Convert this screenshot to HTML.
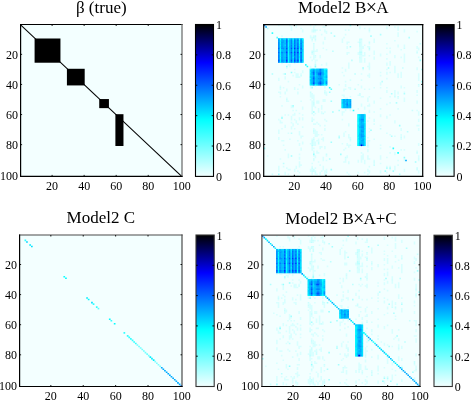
<!DOCTYPE html>
<html><head><meta charset="utf-8"><title>Model2 comparison</title>
<style>html,body{margin:0;padding:0;background:#fff;overflow:hidden}svg{display:block}</style></head>
<body>
<svg width="471" height="400" viewBox="0 0 471 400" style="display:block">
<rect width="471" height="400" fill="#fff"/>
<defs><linearGradient id="cb" x1="0" y1="1" x2="0" y2="0">
<stop offset="0.000" stop-color="#f3ffff"/>
<stop offset="0.375" stop-color="#00ffff"/>
<stop offset="0.750" stop-color="#0000ff"/>
<stop offset="1.000" stop-color="#000000"/>
</linearGradient></defs>
<g>
<rect x="20.60" y="24.50" width="161.40" height="151.90" fill="#f3ffff"/>
<line x1="20.60" y1="24.80" x2="181.70" y2="176.40" stroke="#000" stroke-width="1.05"/>
<rect x="34.59" y="38.50" width="25.86" height="24.22" fill="#000"/>
<rect x="66.91" y="68.78" width="17.78" height="16.65" fill="#000"/>
<rect x="99.23" y="99.06" width="9.70" height="9.08" fill="#000"/>
<rect x="115.39" y="114.20" width="8.08" height="31.79" fill="#000"/>
<path d="M20.00 24.50H182.60" stroke="#000" stroke-width="1.20"/>
<path d="M182.00 23.90V177.00" stroke="#666" stroke-width="1.20"/>
<path d="M20.60 23.90V177.00" stroke="#000" stroke-width="1.20"/>
<path d="M20.00 176.40H182.60" stroke="#000" stroke-width="1.20"/>
<path d="M52.10 176.40v-1.5M52.10 24.50v1.5M20.60 54.35h1.5M182.00 54.35h-1.5M84.14 176.40v-1.5M84.14 24.50v1.5M20.60 84.45h1.5M182.00 84.45h-1.5M116.18 176.40v-1.5M116.18 24.50v1.5M20.60 114.55h1.5M182.00 114.55h-1.5M148.22 176.40v-1.5M148.22 24.50v1.5M20.60 144.65h1.5M182.00 144.65h-1.5" stroke="#000" stroke-width="0.9" fill="none"/>
<g font-family="'Liberation Serif',serif" font-size="12" fill="#000">
<text x="52.10" y="189.90" text-anchor="middle">20</text>
<text x="17.90" y="58.65" text-anchor="end">20</text>
<text x="84.14" y="189.90" text-anchor="middle">40</text>
<text x="17.90" y="88.75" text-anchor="end">40</text>
<text x="116.18" y="189.90" text-anchor="middle">60</text>
<text x="17.90" y="118.85" text-anchor="end">60</text>
<text x="148.22" y="189.90" text-anchor="middle">80</text>
<text x="17.90" y="148.95" text-anchor="end">80</text>
<text x="181.80" y="189.90" text-anchor="middle">100</text>
<text x="17.90" y="179.90" text-anchor="end">100</text>
</g>
<text x="101.30" y="12.80" text-anchor="middle" font-family="'Liberation Serif',serif" font-size="17" fill="#000">β (true)</text>
<rect x="195.50" y="24.50" width="18.00" height="151.90" fill="url(#cb)" stroke="#000" stroke-width="1.1"/>
<path d="M195.50 146.02h1.8M213.50 146.02h-1.8M195.50 115.64h1.8M213.50 115.64h-1.8M195.50 85.26h1.8M213.50 85.26h-1.8M195.50 54.88h1.8M213.50 54.88h-1.8" stroke="#000" stroke-width="0.9" fill="none"/>
<g font-family="'Liberation Serif',serif" font-size="12" fill="#000">
<text x="215.90" y="180.90">0</text>
<text x="215.90" y="150.52">0.2</text>
<text x="215.90" y="120.14">0.4</text>
<text x="215.90" y="89.76">0.6</text>
<text x="215.90" y="59.38">0.8</text>
<text x="215.90" y="29.00">1</text>
</g>
</g>
<g>
<rect x="263.70" y="24.60" width="159.00" height="151.70" fill="#f3ffff"/>
<rect x="278.01" y="38.35" width="25.44" height="24.27" fill="#00d3ff"/>
<rect x="309.81" y="68.69" width="17.49" height="16.69" fill="#00d3ff"/>
<rect x="341.61" y="99.03" width="9.54" height="9.10" fill="#00d3ff"/>
<rect x="357.51" y="114.20" width="7.95" height="31.86" fill="#00d3ff"/>
<path fill="#d9ffff" d="M278.0 24.7h1.6v1.6h-1.6zM289.1 24.7h1.6v1.6h-1.6zM295.5 24.7h1.6v1.6h-1.6zM309.8 24.7h1.6v1.6h-1.6zM314.6 24.7h1.6v1.6h-1.6zM290.7 26.2h1.6v1.6h-1.6zM295.5 26.2h1.6v1.6h-1.6zM313.0 26.2h1.6v1.6h-1.6zM322.5 26.2h3.2v1.6h-3.2zM359.1 26.2h1.6v1.6h-1.6zM386.1 26.2h1.6v1.6h-1.6zM394.1 26.2h1.6v1.6h-1.6zM397.3 26.2h1.6v1.6h-1.6zM290.7 27.7h1.6v1.6h-1.6zM300.3 27.7h1.6v1.6h-1.6zM313.0 27.7h1.6v1.6h-1.6zM359.1 27.7h1.6v1.6h-1.6zM363.9 27.7h1.6v1.6h-1.6zM368.6 27.7h1.6v1.6h-1.6zM386.1 27.7h1.6v1.6h-1.6zM397.3 27.7h1.6v1.6h-1.6zM290.7 29.3h1.6v1.6h-1.6zM301.9 29.3h1.6v1.6h-1.6zM311.4 29.3h1.6v1.6h-1.6zM316.2 29.3h1.6v1.6h-1.6zM319.4 29.3h1.6v1.6h-1.6zM324.1 29.3h1.6v1.6h-1.6zM344.8 29.3h1.6v1.6h-1.6zM348.0 29.3h1.6v1.6h-1.6zM397.3 29.3h1.6v1.6h-1.6zM403.6 29.3h1.6v1.6h-1.6zM301.9 30.8h1.6v1.6h-1.6zM311.4 30.8h1.6v1.6h-1.6zM314.6 30.8h1.6v1.6h-1.6zM324.1 30.8h3.2v1.6h-3.2zM368.6 30.8h1.6v1.6h-1.6zM403.6 30.8h1.6v1.6h-1.6zM416.3 30.8h1.6v1.6h-1.6zM325.7 32.3h1.6v1.6h-1.6zM397.3 32.3h1.6v1.6h-1.6zM320.9 33.8h1.6v1.6h-1.6zM344.8 33.8h1.6v1.6h-1.6zM397.3 33.8h1.6v1.6h-1.6zM281.2 35.3h1.6v1.6h-1.6zM309.8 35.3h1.6v1.6h-1.6zM313.0 35.3h1.6v1.6h-1.6zM397.3 35.3h1.6v1.6h-1.6zM309.8 36.8h3.2v1.6h-3.2zM314.6 36.8h1.6v1.6h-1.6zM324.1 36.8h1.6v1.6h-1.6zM343.2 36.8h1.6v1.6h-1.6zM324.1 38.4h1.6v1.6h-1.6zM341.6 38.4h1.6v1.6h-1.6zM373.4 38.4h1.6v1.6h-1.6zM311.4 39.9h1.6v1.6h-1.6zM314.6 39.9h1.6v1.6h-1.6zM341.6 39.9h1.6v1.6h-1.6zM360.7 39.9h1.6v1.6h-1.6zM373.4 39.9h1.6v1.6h-1.6zM394.1 39.9h1.6v1.6h-1.6zM322.5 41.4h1.6v1.6h-1.6zM341.6 41.4h1.6v1.6h-1.6zM346.4 41.4h3.2v1.6h-3.2zM357.5 41.4h1.6v1.6h-1.6zM360.7 41.4h1.6v1.6h-1.6zM373.4 41.4h1.6v1.6h-1.6zM322.5 42.9h1.6v1.6h-1.6zM346.4 42.9h1.6v1.6h-1.6zM360.7 42.9h1.6v1.6h-1.6zM368.6 42.9h1.6v1.6h-1.6zM386.1 42.9h1.6v1.6h-1.6zM313.0 44.4h1.6v1.6h-1.6zM360.7 44.4h1.6v1.6h-1.6zM363.9 44.4h1.6v1.6h-1.6zM397.3 44.4h1.6v1.6h-1.6zM403.6 44.4h1.6v1.6h-1.6zM313.0 45.9h1.6v1.6h-1.6zM346.4 45.9h1.6v1.6h-1.6zM360.7 45.9h3.2v1.6h-3.2zM367.1 45.9h3.2v1.6h-3.2zM397.3 45.9h1.6v1.6h-1.6zM403.6 45.9h1.6v1.6h-1.6zM416.3 45.9h1.6v1.6h-1.6zM313.0 47.5h1.6v1.6h-1.6zM322.5 47.5h1.6v1.6h-1.6zM346.4 47.5h1.6v1.6h-1.6zM359.1 47.5h4.8v1.6h-4.8zM386.1 47.5h1.6v1.6h-1.6zM389.3 47.5h1.6v1.6h-1.6zM416.3 47.5h3.2v1.6h-3.2zM313.0 49.0h1.6v1.6h-1.6zM316.2 49.0h1.6v1.6h-1.6zM325.7 49.0h1.6v1.6h-1.6zM359.1 49.0h3.2v1.6h-3.2zM400.4 49.0h1.6v1.6h-1.6zM417.9 49.0h1.6v1.6h-1.6zM314.6 50.5h3.2v1.6h-3.2zM373.4 50.5h1.6v1.6h-1.6zM389.3 50.5h1.6v1.6h-1.6zM416.3 50.5h1.6v1.6h-1.6zM313.0 52.0h1.6v1.6h-1.6zM346.4 52.0h3.2v1.6h-3.2zM357.5 52.0h1.6v1.6h-1.6zM363.9 52.0h1.6v1.6h-1.6zM373.4 52.0h1.6v1.6h-1.6zM389.3 52.0h1.6v1.6h-1.6zM311.4 53.5h3.2v1.6h-3.2zM346.4 53.5h1.6v1.6h-1.6zM357.5 53.5h1.6v1.6h-1.6zM363.9 53.5h1.6v1.6h-1.6zM373.4 53.5h1.6v1.6h-1.6zM379.8 53.5h1.6v1.6h-1.6zM386.1 53.5h1.6v1.6h-1.6zM403.6 53.5h1.6v1.6h-1.6zM313.0 55.0h1.6v1.6h-1.6zM319.4 55.0h1.6v1.6h-1.6zM359.1 55.0h6.4v1.6h-6.4zM368.6 55.0h1.6v1.6h-1.6zM379.8 55.0h1.6v1.6h-1.6zM394.1 55.0h1.6v1.6h-1.6zM403.6 55.0h1.6v1.6h-1.6zM309.8 56.6h1.6v1.6h-1.6zM313.0 56.6h3.2v1.6h-3.2zM319.4 56.6h1.6v1.6h-1.6zM360.7 56.6h1.6v1.6h-1.6zM373.4 56.6h1.6v1.6h-1.6zM394.1 56.6h1.6v1.6h-1.6zM400.4 56.6h1.6v1.6h-1.6zM403.6 56.6h1.6v1.6h-1.6zM417.9 56.6h1.6v1.6h-1.6zM313.0 58.1h1.6v1.6h-1.6zM359.1 58.1h3.2v1.6h-3.2zM363.9 58.1h1.6v1.6h-1.6zM373.4 58.1h1.6v1.6h-1.6zM386.1 58.1h1.6v1.6h-1.6zM403.6 58.1h1.6v1.6h-1.6zM311.4 59.6h1.6v1.6h-1.6zM314.6 59.6h3.2v1.6h-3.2zM359.1 59.6h3.2v1.6h-3.2zM363.9 59.6h1.6v1.6h-1.6zM403.6 59.6h1.6v1.6h-1.6zM314.6 61.1h1.6v1.6h-1.6zM359.1 61.1h3.2v1.6h-3.2zM363.9 61.1h1.6v1.6h-1.6zM389.3 61.1h1.6v1.6h-1.6zM403.6 61.1h1.6v1.6h-1.6zM281.2 62.6h1.6v1.6h-1.6zM293.9 62.6h1.6v1.6h-1.6zM314.6 62.6h1.6v1.6h-1.6zM325.7 62.6h1.6v1.6h-1.6zM348.0 62.6h1.6v1.6h-1.6zM368.6 62.6h1.6v1.6h-1.6zM386.1 62.6h1.6v1.6h-1.6zM389.3 62.6h1.6v1.6h-1.6zM287.6 64.1h3.2v1.6h-3.2zM320.9 64.1h1.6v1.6h-1.6zM325.7 64.1h1.6v1.6h-1.6zM348.0 64.1h1.6v1.6h-1.6zM368.6 64.1h1.6v1.6h-1.6zM386.1 64.1h1.6v1.6h-1.6zM389.3 64.1h1.6v1.6h-1.6zM289.1 65.7h1.6v1.6h-1.6zM309.8 65.7h1.6v1.6h-1.6zM348.0 65.7h1.6v1.6h-1.6zM367.1 65.7h3.2v1.6h-3.2zM394.1 65.7h1.6v1.6h-1.6zM286.0 67.2h1.6v1.6h-1.6zM309.8 67.2h1.6v1.6h-1.6zM314.6 67.2h1.6v1.6h-1.6zM341.6 67.2h1.6v1.6h-1.6zM348.0 67.2h1.6v1.6h-1.6zM394.1 67.2h1.6v1.6h-1.6zM416.3 67.2h1.6v1.6h-1.6zM293.9 68.7h1.6v1.6h-1.6zM344.8 68.7h1.6v1.6h-1.6zM362.3 68.7h1.6v1.6h-1.6zM368.6 68.7h1.6v1.6h-1.6zM386.1 68.7h1.6v1.6h-1.6zM394.1 68.7h1.6v1.6h-1.6zM416.3 68.7h1.6v1.6h-1.6zM301.9 70.2h1.6v1.6h-1.6zM344.8 70.2h1.6v1.6h-1.6zM394.1 70.2h1.6v1.6h-1.6zM293.9 71.7h1.6v1.6h-1.6zM301.9 71.7h1.6v1.6h-1.6zM341.6 71.7h1.6v1.6h-1.6zM379.8 71.7h1.6v1.6h-1.6zM386.1 71.7h1.6v1.6h-1.6zM389.3 71.7h1.6v1.6h-1.6zM394.1 71.7h1.6v1.6h-1.6zM400.4 71.7h1.6v1.6h-1.6zM282.8 73.2h1.6v1.6h-1.6zM295.5 73.2h3.2v1.6h-3.2zM300.3 73.2h1.6v1.6h-1.6zM360.7 73.2h1.6v1.6h-1.6zM368.6 73.2h1.6v1.6h-1.6zM386.1 73.2h1.6v1.6h-1.6zM397.3 73.2h1.6v1.6h-1.6zM400.4 73.2h1.6v1.6h-1.6zM417.9 73.2h1.6v1.6h-1.6zM292.3 74.8h1.6v1.6h-1.6zM295.5 74.8h3.2v1.6h-3.2zM343.2 74.8h1.6v1.6h-1.6zM367.1 74.8h3.2v1.6h-3.2zM379.8 74.8h1.6v1.6h-1.6zM397.3 74.8h1.6v1.6h-1.6zM400.4 74.8h1.6v1.6h-1.6zM417.9 74.8h1.6v1.6h-1.6zM284.4 76.3h1.6v1.6h-1.6zM295.5 76.3h4.8v1.6h-4.8zM368.6 76.3h1.6v1.6h-1.6zM397.3 76.3h1.6v1.6h-1.6zM400.4 76.3h1.6v1.6h-1.6zM417.9 76.3h1.6v1.6h-1.6zM278.0 77.8h1.6v1.6h-1.6zM284.4 77.8h1.6v1.6h-1.6zM386.1 77.8h1.6v1.6h-1.6zM417.9 77.8h1.6v1.6h-1.6zM278.0 79.3h1.6v1.6h-1.6zM349.6 79.3h1.6v1.6h-1.6zM360.7 79.3h1.6v1.6h-1.6zM417.9 79.3h1.6v1.6h-1.6zM287.6 80.8h1.6v1.6h-1.6zM344.8 80.8h1.6v1.6h-1.6zM379.8 82.3h1.6v1.6h-1.6zM298.7 83.9h1.6v1.6h-1.6zM338.4 83.9h1.6v1.6h-1.6zM344.8 83.9h1.6v1.6h-1.6zM357.5 83.9h1.6v1.6h-1.6zM379.8 83.9h1.6v1.6h-1.6zM279.6 85.4h1.6v1.6h-1.6zM301.9 85.4h1.6v1.6h-1.6zM309.8 85.4h3.2v1.6h-3.2zM314.6 85.4h1.6v1.6h-1.6zM324.1 85.4h1.6v1.6h-1.6zM344.8 85.4h1.6v1.6h-1.6zM360.7 85.4h1.6v1.6h-1.6zM400.4 85.4h1.6v1.6h-1.6zM417.9 85.4h1.6v1.6h-1.6zM282.8 86.9h1.6v1.6h-1.6zM293.9 86.9h1.6v1.6h-1.6zM301.9 86.9h1.6v1.6h-1.6zM309.8 86.9h1.6v1.6h-1.6zM324.1 86.9h1.6v1.6h-1.6zM348.0 86.9h3.2v1.6h-3.2zM360.7 86.9h1.6v1.6h-1.6zM373.4 86.9h1.6v1.6h-1.6zM379.8 86.9h1.6v1.6h-1.6zM386.1 86.9h1.6v1.6h-1.6zM400.4 86.9h1.6v1.6h-1.6zM403.6 86.9h1.6v1.6h-1.6zM279.6 88.4h1.6v1.6h-1.6zM286.0 88.4h1.6v1.6h-1.6zM293.9 88.4h1.6v1.6h-1.6zM297.1 88.4h1.6v1.6h-1.6zM343.2 88.4h3.2v1.6h-3.2zM349.6 88.4h1.6v1.6h-1.6zM363.9 88.4h1.6v1.6h-1.6zM368.6 88.4h1.6v1.6h-1.6zM286.0 89.9h1.6v1.6h-1.6zM324.1 89.9h1.6v1.6h-1.6zM343.2 89.9h1.6v1.6h-1.6zM386.1 89.9h1.6v1.6h-1.6zM394.1 89.9h1.6v1.6h-1.6zM416.3 89.9h1.6v1.6h-1.6zM278.0 91.4h3.2v1.6h-3.2zM284.4 91.4h1.6v1.6h-1.6zM297.1 91.4h1.6v1.6h-1.6zM325.7 91.4h1.6v1.6h-1.6zM386.1 91.4h1.6v1.6h-1.6zM394.1 91.4h1.6v1.6h-1.6zM397.3 91.4h1.6v1.6h-1.6zM403.6 91.4h1.6v1.6h-1.6zM416.3 91.4h1.6v1.6h-1.6zM279.6 93.0h1.6v1.6h-1.6zM284.4 93.0h1.6v1.6h-1.6zM297.1 93.0h1.6v1.6h-1.6zM309.8 93.0h3.2v1.6h-3.2zM324.1 93.0h3.2v1.6h-3.2zM394.1 93.0h1.6v1.6h-1.6zM397.3 93.0h1.6v1.6h-1.6zM309.8 94.5h4.8v1.6h-4.8zM325.7 94.5h1.6v1.6h-1.6zM341.6 94.5h3.2v1.6h-3.2zM357.5 94.5h1.6v1.6h-1.6zM394.1 94.5h1.6v1.6h-1.6zM416.3 94.5h1.6v1.6h-1.6zM279.6 96.0h1.6v1.6h-1.6zM309.8 96.0h4.8v1.6h-4.8zM343.2 96.0h1.6v1.6h-1.6zM349.6 96.0h1.6v1.6h-1.6zM360.7 96.0h3.2v1.6h-3.2zM368.6 96.0h1.6v1.6h-1.6zM389.3 96.0h1.6v1.6h-1.6zM286.0 97.5h1.6v1.6h-1.6zM311.4 97.5h3.2v1.6h-3.2zM344.8 97.5h3.2v1.6h-3.2zM367.1 97.5h1.6v1.6h-1.6zM379.8 97.5h1.6v1.6h-1.6zM397.3 97.5h1.6v1.6h-1.6zM403.6 97.5h1.6v1.6h-1.6zM309.8 99.0h1.6v1.6h-1.6zM313.0 99.0h1.6v1.6h-1.6zM322.5 99.0h3.2v1.6h-3.2zM367.1 99.0h1.6v1.6h-1.6zM403.6 99.0h1.6v1.6h-1.6zM286.0 100.5h3.2v1.6h-3.2zM300.3 100.5h1.6v1.6h-1.6zM311.4 100.5h3.2v1.6h-3.2zM316.2 100.5h3.2v1.6h-3.2zM322.5 100.5h3.2v1.6h-3.2zM367.1 100.5h1.6v1.6h-1.6zM373.4 100.5h1.6v1.6h-1.6zM403.6 100.5h1.6v1.6h-1.6zM416.3 100.5h1.6v1.6h-1.6zM311.4 102.1h1.6v1.6h-1.6zM316.2 102.1h3.2v1.6h-3.2zM373.4 102.1h1.6v1.6h-1.6zM389.3 102.1h1.6v1.6h-1.6zM416.3 102.1h1.6v1.6h-1.6zM311.4 103.6h1.6v1.6h-1.6zM360.7 103.6h1.6v1.6h-1.6zM368.6 103.6h1.6v1.6h-1.6zM386.1 103.6h1.6v1.6h-1.6zM281.2 105.1h1.6v1.6h-1.6zM290.7 105.1h1.6v1.6h-1.6zM311.4 105.1h3.2v1.6h-3.2zM320.9 105.1h1.6v1.6h-1.6zM360.7 105.1h1.6v1.6h-1.6zM367.1 105.1h3.2v1.6h-3.2zM290.7 106.6h3.2v1.6h-3.2zM301.9 106.6h1.6v1.6h-1.6zM311.4 106.6h1.6v1.6h-1.6zM314.6 106.6h1.6v1.6h-1.6zM320.9 106.6h1.6v1.6h-1.6zM363.9 106.6h1.6v1.6h-1.6zM301.9 108.1h1.6v1.6h-1.6zM311.4 108.1h1.6v1.6h-1.6zM317.8 108.1h1.6v1.6h-1.6zM320.9 108.1h1.6v1.6h-1.6zM344.8 108.1h1.6v1.6h-1.6zM349.6 108.1h1.6v1.6h-1.6zM357.5 108.1h1.6v1.6h-1.6zM363.9 108.1h1.6v1.6h-1.6zM379.8 108.1h1.6v1.6h-1.6zM397.3 108.1h1.6v1.6h-1.6zM292.3 109.7h1.6v1.6h-1.6zM295.5 109.7h1.6v1.6h-1.6zM311.4 109.7h1.6v1.6h-1.6zM317.8 109.7h1.6v1.6h-1.6zM344.8 109.7h1.6v1.6h-1.6zM349.6 109.7h1.6v1.6h-1.6zM368.6 109.7h1.6v1.6h-1.6zM416.3 109.7h1.6v1.6h-1.6zM311.4 111.2h1.6v1.6h-1.6zM317.8 111.2h1.6v1.6h-1.6zM320.9 111.2h1.6v1.6h-1.6zM324.1 111.2h1.6v1.6h-1.6zM341.6 111.2h3.2v1.6h-3.2zM373.4 111.2h1.6v1.6h-1.6zM417.9 111.2h1.6v1.6h-1.6zM293.9 112.7h1.6v1.6h-1.6zM298.7 112.7h1.6v1.6h-1.6zM314.6 112.7h1.6v1.6h-1.6zM320.9 112.7h1.6v1.6h-1.6zM341.6 112.7h1.6v1.6h-1.6zM363.9 112.7h1.6v1.6h-1.6zM417.9 112.7h1.6v1.6h-1.6zM284.4 114.2h1.6v1.6h-1.6zM287.6 114.2h1.6v1.6h-1.6zM292.3 114.2h3.2v1.6h-3.2zM301.9 114.2h1.6v1.6h-1.6zM313.0 114.2h1.6v1.6h-1.6zM341.6 114.2h1.6v1.6h-1.6zM379.8 114.2h1.6v1.6h-1.6zM389.3 114.2h1.6v1.6h-1.6zM417.9 114.2h1.6v1.6h-1.6zM281.2 115.7h1.6v1.6h-1.6zM290.7 115.7h1.6v1.6h-1.6zM379.8 115.7h1.6v1.6h-1.6zM386.1 115.7h1.6v1.6h-1.6zM290.7 117.2h1.6v1.6h-1.6zM298.7 117.2h1.6v1.6h-1.6zM301.9 117.2h1.6v1.6h-1.6zM311.4 117.2h1.6v1.6h-1.6zM368.6 117.2h1.6v1.6h-1.6zM386.1 117.2h1.6v1.6h-1.6zM278.0 118.8h1.6v1.6h-1.6zM290.7 118.8h1.6v1.6h-1.6zM293.9 118.8h1.6v1.6h-1.6zM298.7 118.8h1.6v1.6h-1.6zM301.9 118.8h1.6v1.6h-1.6zM311.4 118.8h3.2v1.6h-3.2zM324.1 118.8h1.6v1.6h-1.6zM341.6 118.8h1.6v1.6h-1.6zM373.4 118.8h1.6v1.6h-1.6zM417.9 118.8h1.6v1.6h-1.6zM279.6 120.3h1.6v1.6h-1.6zM295.5 120.3h1.6v1.6h-1.6zM325.7 120.3h1.6v1.6h-1.6zM367.1 120.3h1.6v1.6h-1.6zM373.4 120.3h1.6v1.6h-1.6zM394.1 120.3h1.6v1.6h-1.6zM417.9 120.3h1.6v1.6h-1.6zM279.6 121.8h3.2v1.6h-3.2zM290.7 121.8h1.6v1.6h-1.6zM295.5 121.8h1.6v1.6h-1.6zM316.2 121.8h1.6v1.6h-1.6zM394.1 121.8h1.6v1.6h-1.6zM292.3 123.3h1.6v1.6h-1.6zM297.1 123.3h1.6v1.6h-1.6zM313.0 123.3h3.2v1.6h-3.2zM317.8 123.3h1.6v1.6h-1.6zM348.0 123.3h1.6v1.6h-1.6zM373.4 123.3h1.6v1.6h-1.6zM284.4 124.8h1.6v1.6h-1.6zM292.3 124.8h1.6v1.6h-1.6zM319.4 124.8h1.6v1.6h-1.6zM324.1 124.8h1.6v1.6h-1.6zM348.0 124.8h1.6v1.6h-1.6zM379.8 124.8h1.6v1.6h-1.6zM416.3 124.8h3.2v1.6h-3.2zM284.4 126.3h1.6v1.6h-1.6zM290.7 126.3h1.6v1.6h-1.6zM301.9 126.3h1.6v1.6h-1.6zM281.2 127.9h1.6v1.6h-1.6zM290.7 127.9h1.6v1.6h-1.6zM293.9 127.9h1.6v1.6h-1.6zM313.0 127.9h1.6v1.6h-1.6zM324.1 127.9h1.6v1.6h-1.6zM368.6 127.9h1.6v1.6h-1.6zM400.4 127.9h1.6v1.6h-1.6zM417.9 127.9h1.6v1.6h-1.6zM278.0 129.4h1.6v1.6h-1.6zM314.6 129.4h1.6v1.6h-1.6zM324.1 129.4h1.6v1.6h-1.6zM400.4 129.4h1.6v1.6h-1.6zM417.9 129.4h1.6v1.6h-1.6zM278.0 130.9h1.6v1.6h-1.6zM298.7 130.9h1.6v1.6h-1.6zM314.6 130.9h3.2v1.6h-3.2zM344.8 130.9h1.6v1.6h-1.6zM368.6 130.9h1.6v1.6h-1.6zM278.0 132.4h1.6v1.6h-1.6zM287.6 132.4h1.6v1.6h-1.6zM298.7 132.4h1.6v1.6h-1.6zM313.0 132.4h4.8v1.6h-4.8zM343.2 132.4h1.6v1.6h-1.6zM386.1 132.4h1.6v1.6h-1.6zM298.7 133.9h1.6v1.6h-1.6zM314.6 133.9h4.8v1.6h-4.8zM320.9 133.9h1.6v1.6h-1.6zM343.2 133.9h1.6v1.6h-1.6zM348.0 133.9h1.6v1.6h-1.6zM389.3 133.9h1.6v1.6h-1.6zM400.4 133.9h1.6v1.6h-1.6zM300.3 135.4h3.2v1.6h-3.2zM314.6 135.4h3.2v1.6h-3.2zM343.2 135.4h1.6v1.6h-1.6zM348.0 135.4h1.6v1.6h-1.6zM394.1 135.4h1.6v1.6h-1.6zM400.4 135.4h1.6v1.6h-1.6zM403.6 135.4h1.6v1.6h-1.6zM278.0 137.0h1.6v1.6h-1.6zM300.3 137.0h1.6v1.6h-1.6zM313.0 137.0h1.6v1.6h-1.6zM322.5 137.0h1.6v1.6h-1.6zM348.0 137.0h3.2v1.6h-3.2zM367.1 137.0h1.6v1.6h-1.6zM403.6 137.0h1.6v1.6h-1.6zM278.0 138.5h1.6v1.6h-1.6zM289.1 138.5h1.6v1.6h-1.6zM311.4 138.5h1.6v1.6h-1.6zM317.8 138.5h1.6v1.6h-1.6zM320.9 138.5h3.2v1.6h-3.2zM373.4 138.5h1.6v1.6h-1.6zM400.4 138.5h1.6v1.6h-1.6zM281.2 140.0h3.2v1.6h-3.2zM297.1 140.0h1.6v1.6h-1.6zM313.0 140.0h1.6v1.6h-1.6zM316.2 140.0h3.2v1.6h-3.2zM322.5 140.0h1.6v1.6h-1.6zM349.6 140.0h1.6v1.6h-1.6zM367.1 140.0h3.2v1.6h-3.2zM301.9 141.5h1.6v1.6h-1.6zM313.0 141.5h3.2v1.6h-3.2zM367.1 141.5h1.6v1.6h-1.6zM298.7 143.0h1.6v1.6h-1.6zM301.9 143.0h1.6v1.6h-1.6zM309.8 143.0h1.6v1.6h-1.6zM313.0 143.0h3.2v1.6h-3.2zM341.6 143.0h1.6v1.6h-1.6zM346.4 143.0h1.6v1.6h-1.6zM367.1 143.0h1.6v1.6h-1.6zM417.9 143.0h1.6v1.6h-1.6zM282.8 144.5h1.6v1.6h-1.6zM298.7 144.5h1.6v1.6h-1.6zM313.0 144.5h3.2v1.6h-3.2zM346.4 144.5h4.8v1.6h-4.8zM379.8 144.5h1.6v1.6h-1.6zM417.9 144.5h1.6v1.6h-1.6zM311.4 146.1h1.6v1.6h-1.6zM319.4 146.1h3.2v1.6h-3.2zM324.1 146.1h1.6v1.6h-1.6zM348.0 146.1h1.6v1.6h-1.6zM367.1 146.1h1.6v1.6h-1.6zM389.3 146.1h1.6v1.6h-1.6zM300.3 147.6h1.6v1.6h-1.6zM311.4 147.6h3.2v1.6h-3.2zM319.4 147.6h1.6v1.6h-1.6zM324.1 147.6h1.6v1.6h-1.6zM344.8 147.6h1.6v1.6h-1.6zM379.8 147.6h1.6v1.6h-1.6zM284.4 149.1h1.6v1.6h-1.6zM300.3 149.1h1.6v1.6h-1.6zM311.4 149.1h1.6v1.6h-1.6zM343.2 149.1h1.6v1.6h-1.6zM367.1 149.1h1.6v1.6h-1.6zM400.4 149.1h1.6v1.6h-1.6zM403.6 149.1h1.6v1.6h-1.6zM313.0 150.6h1.6v1.6h-1.6zM316.2 150.6h1.6v1.6h-1.6zM367.1 150.6h1.6v1.6h-1.6zM416.3 150.6h1.6v1.6h-1.6zM313.0 152.1h1.6v1.6h-1.6zM316.2 152.1h3.2v1.6h-3.2zM360.7 152.1h1.6v1.6h-1.6zM389.3 152.1h1.6v1.6h-1.6zM394.1 152.1h1.6v1.6h-1.6zM287.6 153.6h1.6v1.6h-1.6zM298.7 153.6h1.6v1.6h-1.6zM362.3 153.6h1.6v1.6h-1.6zM394.1 153.6h1.6v1.6h-1.6zM266.9 155.2h1.6v1.6h-1.6zM287.6 155.2h1.6v1.6h-1.6zM313.0 155.2h3.2v1.6h-3.2zM325.7 155.2h1.6v1.6h-1.6zM346.4 155.2h1.6v1.6h-1.6zM360.7 155.2h3.2v1.6h-3.2zM367.1 155.2h1.6v1.6h-1.6zM379.8 155.2h1.6v1.6h-1.6zM417.9 155.2h1.6v1.6h-1.6zM287.6 156.7h1.6v1.6h-1.6zM298.7 156.7h1.6v1.6h-1.6zM314.6 156.7h1.6v1.6h-1.6zM322.5 156.7h1.6v1.6h-1.6zM346.4 156.7h1.6v1.6h-1.6zM360.7 156.7h3.2v1.6h-3.2zM367.1 156.7h1.6v1.6h-1.6zM379.8 156.7h1.6v1.6h-1.6zM386.1 156.7h1.6v1.6h-1.6zM417.9 156.7h1.6v1.6h-1.6zM279.6 158.2h1.6v1.6h-1.6zM298.7 158.2h1.6v1.6h-1.6zM322.5 158.2h1.6v1.6h-1.6zM344.8 158.2h1.6v1.6h-1.6zM360.7 158.2h3.2v1.6h-3.2zM367.1 158.2h3.2v1.6h-3.2zM379.8 158.2h1.6v1.6h-1.6zM313.0 159.7h1.6v1.6h-1.6zM322.5 159.7h1.6v1.6h-1.6zM325.7 159.7h1.6v1.6h-1.6zM344.8 159.7h1.6v1.6h-1.6zM357.5 159.7h1.6v1.6h-1.6zM360.7 159.7h1.6v1.6h-1.6zM363.9 159.7h1.6v1.6h-1.6zM373.4 159.7h1.6v1.6h-1.6zM397.3 159.7h1.6v1.6h-1.6zM403.6 159.7h1.6v1.6h-1.6zM417.9 159.7h1.6v1.6h-1.6zM298.7 161.2h1.6v1.6h-1.6zM317.8 161.2h1.6v1.6h-1.6zM343.2 161.2h3.2v1.6h-3.2zM348.0 161.2h1.6v1.6h-1.6zM357.5 161.2h1.6v1.6h-1.6zM360.7 161.2h1.6v1.6h-1.6zM363.9 161.2h1.6v1.6h-1.6zM298.7 162.7h1.6v1.6h-1.6zM311.4 162.7h1.6v1.6h-1.6zM348.0 162.7h1.6v1.6h-1.6zM363.9 162.7h1.6v1.6h-1.6zM373.4 162.7h1.6v1.6h-1.6zM379.8 162.7h1.6v1.6h-1.6zM298.7 164.3h3.2v1.6h-3.2zM319.4 164.3h1.6v1.6h-1.6zM397.3 164.3h1.6v1.6h-1.6zM278.0 165.8h1.6v1.6h-1.6zM282.8 165.8h1.6v1.6h-1.6zM295.5 165.8h1.6v1.6h-1.6zM298.7 165.8h1.6v1.6h-1.6zM311.4 165.8h1.6v1.6h-1.6zM322.5 165.8h1.6v1.6h-1.6zM368.6 165.8h1.6v1.6h-1.6zM386.1 165.8h1.6v1.6h-1.6zM389.3 165.8h1.6v1.6h-1.6zM394.1 165.8h1.6v1.6h-1.6zM278.0 167.3h1.6v1.6h-1.6zM286.0 167.3h1.6v1.6h-1.6zM295.5 167.3h1.6v1.6h-1.6zM314.6 167.3h1.6v1.6h-1.6zM322.5 167.3h1.6v1.6h-1.6zM394.1 167.3h1.6v1.6h-1.6zM278.0 168.8h1.6v1.6h-1.6zM287.6 168.8h3.2v1.6h-3.2zM293.9 168.8h1.6v1.6h-1.6zM309.8 168.8h3.2v1.6h-3.2zM322.5 168.8h1.6v1.6h-1.6zM325.7 168.8h1.6v1.6h-1.6zM367.1 168.8h1.6v1.6h-1.6zM389.3 168.8h1.6v1.6h-1.6zM394.1 168.8h1.6v1.6h-1.6zM403.6 168.8h1.6v1.6h-1.6zM278.0 170.3h1.6v1.6h-1.6zM293.9 170.3h1.6v1.6h-1.6zM297.1 170.3h1.6v1.6h-1.6zM309.8 170.3h1.6v1.6h-1.6zM314.6 170.3h1.6v1.6h-1.6zM320.9 170.3h1.6v1.6h-1.6zM324.1 170.3h3.2v1.6h-3.2zM367.1 170.3h3.2v1.6h-3.2zM379.8 170.3h1.6v1.6h-1.6zM403.6 170.3h1.6v1.6h-1.6zM417.9 170.3h1.6v1.6h-1.6zM284.4 171.8h1.6v1.6h-1.6zM298.7 171.8h1.6v1.6h-1.6zM311.4 171.8h1.6v1.6h-1.6zM319.4 171.8h1.6v1.6h-1.6zM324.1 171.8h1.6v1.6h-1.6zM346.4 171.8h1.6v1.6h-1.6zM357.5 171.8h1.6v1.6h-1.6zM363.9 171.8h1.6v1.6h-1.6zM368.6 171.8h1.6v1.6h-1.6zM379.8 171.8h1.6v1.6h-1.6zM386.1 171.8h1.6v1.6h-1.6zM417.9 171.8h1.6v1.6h-1.6zM284.4 173.4h1.6v1.6h-1.6zM287.6 173.4h1.6v1.6h-1.6zM311.4 173.4h1.6v1.6h-1.6zM314.6 173.4h3.2v1.6h-3.2zM319.4 173.4h1.6v1.6h-1.6zM324.1 173.4h1.6v1.6h-1.6zM348.0 173.4h1.6v1.6h-1.6zM367.1 173.4h1.6v1.6h-1.6zM297.1 174.9h1.6v1.6h-1.6zM324.1 174.9h1.6v1.6h-1.6zM349.6 174.9h1.6v1.6h-1.6z"/>
<path fill="#ccffff" d="M313.0 29.3h3.2v1.6h-3.2zM368.6 29.3h1.6v1.6h-1.6zM313.0 30.8h1.6v1.6h-1.6zM314.6 35.3h1.6v1.6h-1.6zM313.0 36.8h1.6v1.6h-1.6zM311.4 38.4h1.6v1.6h-1.6zM314.6 38.4h1.6v1.6h-1.6zM359.1 38.4h3.2v1.6h-3.2zM359.1 39.9h1.6v1.6h-1.6zM368.6 41.4h1.6v1.6h-1.6zM313.0 42.9h1.6v1.6h-1.6zM359.1 42.9h1.6v1.6h-1.6zM419.5 42.9h1.6v1.6h-1.6zM359.1 44.4h1.6v1.6h-1.6zM359.1 45.9h1.6v1.6h-1.6zM403.6 47.5h1.6v1.6h-1.6zM368.6 49.0h1.6v1.6h-1.6zM311.4 50.5h3.2v1.6h-3.2zM359.1 50.5h3.2v1.6h-3.2zM416.3 52.0h1.6v1.6h-1.6zM359.1 53.5h3.2v1.6h-3.2zM314.6 55.0h1.6v1.6h-1.6zM359.1 56.6h1.6v1.6h-1.6zM368.6 67.2h1.6v1.6h-1.6zM402.0 67.2h1.6v1.6h-1.6zM300.3 74.8h1.6v1.6h-1.6zM417.9 83.9h1.6v1.6h-1.6zM279.6 86.9h1.6v1.6h-1.6zM309.8 91.4h1.6v1.6h-1.6zM324.1 91.4h1.6v1.6h-1.6zM359.1 93.0h1.6v1.6h-1.6zM359.1 94.5h1.6v1.6h-1.6zM394.1 96.0h1.6v1.6h-1.6zM397.3 96.0h1.6v1.6h-1.6zM286.0 99.0h1.6v1.6h-1.6zM313.0 102.1h1.6v1.6h-1.6zM313.0 103.6h1.6v1.6h-1.6zM411.6 109.7h1.6v1.6h-1.6zM368.6 111.2h1.6v1.6h-1.6zM311.4 112.7h1.6v1.6h-1.6zM322.5 112.7h1.6v1.6h-1.6zM311.4 120.3h1.6v1.6h-1.6zM379.8 127.9h1.6v1.6h-1.6zM313.0 129.4h1.6v1.6h-1.6zM313.0 130.9h1.6v1.6h-1.6zM400.4 137.0h1.6v1.6h-1.6zM313.0 138.5h1.6v1.6h-1.6zM349.6 138.5h1.6v1.6h-1.6zM311.4 140.0h1.6v1.6h-1.6zM311.4 141.5h1.6v1.6h-1.6zM317.8 141.5h1.6v1.6h-1.6zM311.4 143.0h1.6v1.6h-1.6zM317.8 143.0h1.6v1.6h-1.6zM367.1 144.5h1.6v1.6h-1.6zM416.3 152.1h1.6v1.6h-1.6zM325.7 153.6h1.6v1.6h-1.6zM344.8 156.7h1.6v1.6h-1.6zM313.0 158.2h1.6v1.6h-1.6zM403.6 158.2h1.6v1.6h-1.6zM417.9 158.2h1.6v1.6h-1.6zM373.4 161.2h1.6v1.6h-1.6zM373.4 164.3h1.6v1.6h-1.6zM311.4 167.3h1.6v1.6h-1.6zM416.3 167.3h1.6v1.6h-1.6zM313.0 168.8h1.6v1.6h-1.6zM416.3 168.8h1.6v1.6h-1.6zM311.4 170.3h3.2v1.6h-3.2zM314.6 171.8h1.6v1.6h-1.6zM325.7 171.8h1.6v1.6h-1.6zM271.6 173.4h1.6v1.6h-1.6z"/>
<path fill="#bfffff" d="M330.5 32.3h1.6v1.6h-1.6zM359.1 41.4h1.6v1.6h-1.6zM368.6 47.5h1.6v1.6h-1.6zM332.1 50.5h1.6v1.6h-1.6zM311.4 52.0h1.6v1.6h-1.6zM359.1 52.0h3.2v1.6h-3.2zM351.1 59.6h1.6v1.6h-1.6zM314.6 64.1h1.6v1.6h-1.6zM354.3 73.2h1.6v1.6h-1.6zM381.4 80.8h1.6v1.6h-1.6zM354.3 88.4h1.6v1.6h-1.6zM406.8 130.9h1.6v1.6h-1.6zM290.7 132.4h1.6v1.6h-1.6zM338.4 135.4h1.6v1.6h-1.6zM311.4 144.5h1.6v1.6h-1.6zM282.8 162.7h1.6v1.6h-1.6z"/>
<path fill="#b2ffff" d="M266.9 27.7h1.6v1.6h-1.6zM379.8 33.8h1.6v1.6h-1.6zM333.7 35.3h1.6v1.6h-1.6zM408.4 36.8h1.6v1.6h-1.6zM349.6 45.9h1.6v1.6h-1.6zM387.7 67.2h1.6v1.6h-1.6zM421.1 68.7h1.6v1.6h-1.6zM271.6 73.2h1.6v1.6h-1.6zM390.9 93.0h1.6v1.6h-1.6zM403.6 93.0h1.6v1.6h-1.6zM395.7 102.1h1.6v1.6h-1.6zM338.4 109.7h1.6v1.6h-1.6zM390.9 135.4h1.6v1.6h-1.6zM338.4 137.0h1.6v1.6h-1.6zM328.9 158.2h1.6v1.6h-1.6zM386.1 167.3h1.6v1.6h-1.6zM389.3 167.3h1.6v1.6h-1.6zM398.9 173.4h1.6v1.6h-1.6z"/>
<path fill="#a5ffff" d="M349.6 24.7h1.6v1.6h-1.6zM370.2 35.3h1.6v1.6h-1.6zM419.5 59.6h1.6v1.6h-1.6zM286.0 65.7h1.6v1.6h-1.6zM362.3 67.2h1.6v1.6h-1.6zM421.1 80.8h1.6v1.6h-1.6zM311.4 86.9h1.6v1.6h-1.6zM328.9 91.4h1.6v1.6h-1.6zM330.5 100.5h1.6v1.6h-1.6zM292.3 105.1h1.6v1.6h-1.6zM313.0 111.2h1.6v1.6h-1.6zM332.1 111.2h1.6v1.6h-1.6zM398.9 124.8h1.6v1.6h-1.6zM370.2 129.4h1.6v1.6h-1.6zM330.5 141.5h1.6v1.6h-1.6zM340.0 153.6h1.6v1.6h-1.6zM290.7 155.2h1.6v1.6h-1.6zM414.8 161.2h1.6v1.6h-1.6zM330.5 168.8h1.6v1.6h-1.6zM384.5 170.3h1.6v1.6h-1.6zM392.5 170.3h1.6v1.6h-1.6zM278.0 173.4h1.6v1.6h-1.6z"/>
<path fill="#98ffff" d="M290.7 71.7h1.6v1.6h-1.6zM284.4 73.2h1.6v1.6h-1.6zM263.7 147.6h1.6v1.6h-1.6zM313.0 153.6h1.6v1.6h-1.6z"/>
<path fill="#8bffff" d="M314.6 65.7h1.6v1.6h-1.6zM281.2 117.2h1.6v1.6h-1.6zM403.6 156.7h1.6v1.6h-1.6z"/>
<path fill="#57ffff" d="M276.4 36.8h1.6v1.6h-1.6zM330.5 88.4h1.6v1.6h-1.6z"/>
<path fill="#31ffff" d="M271.6 32.3h1.6v1.6h-1.6zM298.7 38.4h1.6v1.6h-1.6zM305.0 64.1h1.6v1.6h-1.6zM306.6 65.7h1.6v1.6h-1.6zM328.9 86.9h1.6v1.6h-1.6zM352.7 109.7h1.6v1.6h-1.6zM392.5 147.6h1.6v1.6h-1.6z"/>
<path fill="#24ffff" d="M279.6 38.4h1.6v1.6h-1.6zM287.6 38.4h1.6v1.6h-1.6zM324.1 68.7h1.6v1.6h-1.6z"/>
<path fill="#17ffff" d="M279.6 56.6h1.6v1.6h-1.6zM287.6 59.6h1.6v1.6h-1.6zM309.8 68.7h1.6v1.6h-1.6zM324.1 83.9h1.6v1.6h-1.6z"/>
<path fill="#0affff" d="M292.3 38.4h1.6v1.6h-1.6zM298.7 39.9h1.6v1.6h-1.6zM279.6 41.4h1.6v1.6h-1.6zM287.6 41.4h1.6v1.6h-1.6zM298.7 41.4h1.6v1.6h-1.6zM287.6 42.9h1.6v1.6h-1.6zM298.7 42.9h1.6v1.6h-1.6zM279.6 44.4h1.6v1.6h-1.6zM287.6 44.4h1.6v1.6h-1.6zM287.6 45.9h1.6v1.6h-1.6zM279.6 47.5h1.6v1.6h-1.6zM279.6 49.0h1.6v1.6h-1.6zM298.7 49.0h1.6v1.6h-1.6zM279.6 50.5h1.6v1.6h-1.6zM287.6 50.5h1.6v1.6h-1.6zM298.7 50.5h1.6v1.6h-1.6zM287.6 52.0h1.6v1.6h-1.6zM287.6 53.5h1.6v1.6h-1.6zM279.6 55.0h1.6v1.6h-1.6zM287.6 55.0h1.6v1.6h-1.6zM287.6 56.6h1.6v1.6h-1.6zM279.6 58.1h1.6v1.6h-1.6zM287.6 58.1h1.6v1.6h-1.6zM298.7 58.1h1.6v1.6h-1.6zM298.7 59.6h1.6v1.6h-1.6zM287.6 61.1h1.6v1.6h-1.6zM298.7 61.1h1.6v1.6h-1.6zM324.1 70.2h1.6v1.6h-1.6zM357.5 115.7h1.6v1.6h-1.6zM357.5 117.2h1.6v1.6h-1.6zM357.5 121.8h1.6v1.6h-1.6zM357.5 123.3h1.6v1.6h-1.6zM357.5 137.0h1.6v1.6h-1.6zM357.5 140.0h1.6v1.6h-1.6zM357.5 141.5h1.6v1.6h-1.6zM397.3 152.1h1.6v1.6h-1.6z"/>
<path fill="#00fcff" d="M301.9 38.4h1.6v1.6h-1.6zM279.6 39.9h1.6v1.6h-1.6zM287.6 39.9h1.6v1.6h-1.6zM292.3 39.9h1.6v1.6h-1.6zM279.6 42.9h1.6v1.6h-1.6zM298.7 44.4h1.6v1.6h-1.6zM279.6 45.9h1.6v1.6h-1.6zM287.6 47.5h1.6v1.6h-1.6zM298.7 47.5h1.6v1.6h-1.6zM287.6 49.0h1.6v1.6h-1.6zM279.6 52.0h1.6v1.6h-1.6zM298.7 52.0h1.6v1.6h-1.6zM279.6 53.5h1.6v1.6h-1.6zM298.7 55.0h1.6v1.6h-1.6zM292.3 56.6h1.6v1.6h-1.6zM279.6 59.6h1.6v1.6h-1.6zM279.6 61.1h1.6v1.6h-1.6zM325.7 68.7h1.6v1.6h-1.6zM324.1 71.7h1.6v1.6h-1.6zM324.1 74.8h1.6v1.6h-1.6zM309.8 77.8h1.6v1.6h-1.6zM324.1 77.8h1.6v1.6h-1.6zM324.1 82.3h1.6v1.6h-1.6zM309.8 83.9h1.6v1.6h-1.6zM314.6 83.9h1.6v1.6h-1.6zM357.5 114.2h1.6v1.6h-1.6zM357.5 118.8h1.6v1.6h-1.6zM357.5 120.3h1.6v1.6h-1.6zM363.9 121.8h1.6v1.6h-1.6zM357.5 126.3h1.6v1.6h-1.6zM357.5 127.9h1.6v1.6h-1.6zM357.5 129.4h1.6v1.6h-1.6zM357.5 130.9h1.6v1.6h-1.6zM357.5 132.4h1.6v1.6h-1.6zM357.5 133.9h1.6v1.6h-1.6zM357.5 138.5h1.6v1.6h-1.6zM357.5 143.0h1.6v1.6h-1.6zM357.5 144.5h1.6v1.6h-1.6z"/>
<path fill="#00eeff" d="M292.3 41.4h1.6v1.6h-1.6zM292.3 44.4h1.6v1.6h-1.6zM298.7 45.9h1.6v1.6h-1.6zM292.3 49.0h1.6v1.6h-1.6zM292.3 50.5h1.6v1.6h-1.6zM292.3 53.5h1.6v1.6h-1.6zM298.7 53.5h1.6v1.6h-1.6zM298.7 56.6h1.6v1.6h-1.6zM301.9 58.1h1.6v1.6h-1.6zM309.8 71.7h1.6v1.6h-1.6zM324.1 73.2h1.6v1.6h-1.6zM309.8 74.8h1.6v1.6h-1.6zM324.1 79.3h1.6v1.6h-1.6zM324.1 80.8h1.6v1.6h-1.6zM341.6 103.6h1.6v1.6h-1.6zM341.6 105.1h1.6v1.6h-1.6zM341.6 106.6h1.6v1.6h-1.6zM363.9 117.2h1.6v1.6h-1.6zM363.9 118.8h1.6v1.6h-1.6zM363.9 120.3h1.6v1.6h-1.6zM357.5 124.8h1.6v1.6h-1.6zM363.9 126.3h1.6v1.6h-1.6zM363.9 129.4h1.6v1.6h-1.6zM363.9 130.9h1.6v1.6h-1.6zM363.9 132.4h1.6v1.6h-1.6zM363.9 133.9h1.6v1.6h-1.6zM357.5 135.4h1.6v1.6h-1.6zM363.9 137.0h1.6v1.6h-1.6zM363.9 140.0h1.6v1.6h-1.6z"/>
<path fill="#00e0ff" d="M284.4 38.4h1.6v1.6h-1.6zM301.9 39.9h1.6v1.6h-1.6zM292.3 42.9h1.6v1.6h-1.6zM301.9 42.9h1.6v1.6h-1.6zM292.3 45.9h1.6v1.6h-1.6zM292.3 47.5h1.6v1.6h-1.6zM301.9 47.5h1.6v1.6h-1.6zM292.3 52.0h1.6v1.6h-1.6zM301.9 52.0h1.6v1.6h-1.6zM301.9 53.5h1.6v1.6h-1.6zM292.3 55.0h1.6v1.6h-1.6zM301.9 55.0h1.6v1.6h-1.6zM301.9 56.6h1.6v1.6h-1.6zM292.3 58.1h1.6v1.6h-1.6zM292.3 59.6h1.6v1.6h-1.6zM292.3 61.1h1.6v1.6h-1.6zM301.9 61.1h1.6v1.6h-1.6zM314.6 68.7h1.6v1.6h-1.6zM309.8 70.2h1.6v1.6h-1.6zM309.8 73.2h1.6v1.6h-1.6zM314.6 73.2h1.6v1.6h-1.6zM325.7 73.2h1.6v1.6h-1.6zM314.6 74.8h1.6v1.6h-1.6zM324.1 76.3h1.6v1.6h-1.6zM325.7 77.8h1.6v1.6h-1.6zM309.8 80.8h1.6v1.6h-1.6zM309.8 82.3h1.6v1.6h-1.6zM316.2 83.9h1.6v1.6h-1.6zM322.5 83.9h1.6v1.6h-1.6zM341.6 99.0h1.6v1.6h-1.6zM341.6 100.5h1.6v1.6h-1.6zM363.9 114.2h1.6v1.6h-1.6zM359.1 115.7h1.6v1.6h-1.6zM363.9 115.7h1.6v1.6h-1.6zM363.9 123.3h1.6v1.6h-1.6zM363.9 124.8h1.6v1.6h-1.6zM363.9 127.9h1.6v1.6h-1.6zM363.9 138.5h1.6v1.6h-1.6zM363.9 141.5h1.6v1.6h-1.6zM363.9 143.0h1.6v1.6h-1.6zM363.9 144.5h1.6v1.6h-1.6z"/>
<path fill="#00d3ff" d="M282.8 38.4h1.6v1.6h-1.6zM289.1 38.4h1.6v1.6h-1.6zM284.4 44.4h1.6v1.6h-1.6zM301.9 44.4h1.6v1.6h-1.6zM301.9 45.9h1.6v1.6h-1.6zM301.9 50.5h1.6v1.6h-1.6zM311.4 68.7h1.6v1.6h-1.6zM322.5 68.7h1.6v1.6h-1.6zM314.6 70.2h1.6v1.6h-1.6zM314.6 71.7h1.6v1.6h-1.6zM325.7 71.7h1.6v1.6h-1.6zM309.8 76.3h1.6v1.6h-1.6zM314.6 76.3h1.6v1.6h-1.6zM322.5 76.3h1.6v1.6h-1.6zM322.5 77.8h1.6v1.6h-1.6zM309.8 79.3h1.6v1.6h-1.6zM314.6 79.3h1.6v1.6h-1.6zM325.7 79.3h1.6v1.6h-1.6zM314.6 80.8h1.6v1.6h-1.6zM311.4 83.9h1.6v1.6h-1.6zM325.7 83.9h1.6v1.6h-1.6zM344.8 99.0h1.6v1.6h-1.6zM341.6 102.1h1.6v1.6h-1.6zM344.8 102.1h1.6v1.6h-1.6zM348.0 102.1h1.6v1.6h-1.6zM344.8 105.1h1.6v1.6h-1.6zM359.1 114.2h1.6v1.6h-1.6zM359.1 117.2h1.6v1.6h-1.6zM359.1 121.8h1.6v1.6h-1.6zM359.1 124.8h1.6v1.6h-1.6zM359.1 127.9h1.6v1.6h-1.6zM359.1 129.4h1.6v1.6h-1.6zM359.1 130.9h1.6v1.6h-1.6zM363.9 135.4h1.6v1.6h-1.6zM359.1 140.0h1.6v1.6h-1.6z"/>
<path fill="#00c5ff" d="M295.5 38.4h1.6v1.6h-1.6zM284.4 39.9h1.6v1.6h-1.6zM284.4 41.4h1.6v1.6h-1.6zM301.9 41.4h1.6v1.6h-1.6zM295.5 45.9h1.6v1.6h-1.6zM301.9 49.0h1.6v1.6h-1.6zM284.4 53.5h1.6v1.6h-1.6zM284.4 55.0h1.6v1.6h-1.6zM289.1 55.0h1.6v1.6h-1.6zM289.1 56.6h1.6v1.6h-1.6zM284.4 58.1h1.6v1.6h-1.6zM289.1 58.1h1.6v1.6h-1.6zM295.5 58.1h1.6v1.6h-1.6zM301.9 59.6h1.6v1.6h-1.6zM284.4 61.1h1.6v1.6h-1.6zM316.2 68.7h3.2v1.6h-3.2zM322.5 70.2h1.6v1.6h-1.6zM325.7 70.2h1.6v1.6h-1.6zM311.4 74.8h1.6v1.6h-1.6zM316.2 74.8h1.6v1.6h-1.6zM322.5 74.8h1.6v1.6h-1.6zM325.7 74.8h1.6v1.6h-1.6zM314.6 77.8h1.6v1.6h-1.6zM314.6 82.3h1.6v1.6h-1.6zM348.0 99.0h3.2v1.6h-3.2zM348.0 100.5h1.6v1.6h-1.6zM348.0 103.6h1.6v1.6h-1.6zM348.0 106.6h1.6v1.6h-1.6zM359.1 120.3h1.6v1.6h-1.6zM362.3 121.8h1.6v1.6h-1.6zM359.1 123.3h1.6v1.6h-1.6zM359.1 132.4h1.6v1.6h-1.6zM359.1 135.4h1.6v1.6h-1.6zM359.1 137.0h1.6v1.6h-1.6zM359.1 138.5h3.2v1.6h-3.2zM359.1 141.5h1.6v1.6h-1.6zM359.1 144.5h1.6v1.6h-1.6z"/>
<path fill="#00b8ff" d="M289.1 39.9h1.6v1.6h-1.6zM295.5 39.9h1.6v1.6h-1.6zM289.1 41.4h1.6v1.6h-1.6zM295.5 41.4h1.6v1.6h-1.6zM282.8 42.9h3.2v1.6h-3.2zM289.1 42.9h1.6v1.6h-1.6zM295.5 42.9h1.6v1.6h-1.6zM282.8 44.4h1.6v1.6h-1.6zM289.1 44.4h1.6v1.6h-1.6zM295.5 44.4h1.6v1.6h-1.6zM282.8 45.9h3.2v1.6h-3.2zM284.4 47.5h1.6v1.6h-1.6zM289.1 47.5h1.6v1.6h-1.6zM281.2 49.0h1.6v1.6h-1.6zM284.4 49.0h1.6v1.6h-1.6zM289.1 49.0h1.6v1.6h-1.6zM295.5 49.0h1.6v1.6h-1.6zM282.8 50.5h3.2v1.6h-3.2zM289.1 50.5h1.6v1.6h-1.6zM295.5 50.5h1.6v1.6h-1.6zM282.8 53.5h1.6v1.6h-1.6zM289.1 53.5h1.6v1.6h-1.6zM295.5 53.5h1.6v1.6h-1.6zM282.8 55.0h1.6v1.6h-1.6zM295.5 55.0h1.6v1.6h-1.6zM282.8 56.6h3.2v1.6h-3.2zM295.5 56.6h1.6v1.6h-1.6zM282.8 58.1h1.6v1.6h-1.6zM284.4 59.6h1.6v1.6h-1.6zM289.1 59.6h1.6v1.6h-1.6zM289.1 61.1h1.6v1.6h-1.6zM313.0 68.7h1.6v1.6h-1.6zM311.4 70.2h1.6v1.6h-1.6zM322.5 71.7h1.6v1.6h-1.6zM311.4 76.3h1.6v1.6h-1.6zM316.2 76.3h3.2v1.6h-3.2zM325.7 76.3h1.6v1.6h-1.6zM316.2 77.8h1.6v1.6h-1.6zM311.4 79.3h1.6v1.6h-1.6zM316.2 79.3h3.2v1.6h-3.2zM320.9 79.3h3.2v1.6h-3.2zM311.4 80.8h1.6v1.6h-1.6zM316.2 80.8h1.6v1.6h-1.6zM322.5 80.8h1.6v1.6h-1.6zM316.2 82.3h1.6v1.6h-1.6zM344.8 100.5h1.6v1.6h-1.6zM343.2 103.6h3.2v1.6h-3.2zM343.2 105.1h1.6v1.6h-1.6zM348.0 105.1h1.6v1.6h-1.6zM343.2 106.6h3.2v1.6h-3.2zM349.6 106.6h1.6v1.6h-1.6zM360.7 114.2h3.2v1.6h-3.2zM360.7 115.7h3.2v1.6h-3.2zM360.7 117.2h1.6v1.6h-1.6zM359.1 118.8h1.6v1.6h-1.6zM360.7 123.3h3.2v1.6h-3.2zM359.1 126.3h1.6v1.6h-1.6zM360.7 127.9h1.6v1.6h-1.6zM362.3 132.4h1.6v1.6h-1.6zM359.1 133.9h1.6v1.6h-1.6zM362.3 137.0h1.6v1.6h-1.6zM360.7 141.5h3.2v1.6h-3.2zM359.1 143.0h1.6v1.6h-1.6zM362.3 143.0h1.6v1.6h-1.6z"/>
<path fill="#00aaff" d="M265.3 26.2h1.6v1.6h-1.6zM278.0 38.4h1.6v1.6h-1.6zM281.2 38.4h1.6v1.6h-1.6zM300.3 38.4h1.6v1.6h-1.6zM281.2 39.9h3.2v1.6h-3.2zM282.8 41.4h1.6v1.6h-1.6zM289.1 45.9h1.6v1.6h-1.6zM295.5 47.5h1.6v1.6h-1.6zM282.8 49.0h1.6v1.6h-1.6zM281.2 50.5h1.6v1.6h-1.6zM282.8 52.0h3.2v1.6h-3.2zM289.1 52.0h1.6v1.6h-1.6zM295.5 52.0h1.6v1.6h-1.6zM282.8 61.1h1.6v1.6h-1.6zM295.5 61.1h1.6v1.6h-1.6zM320.9 68.7h1.6v1.6h-1.6zM316.2 70.2h3.2v1.6h-3.2zM320.9 70.2h1.6v1.6h-1.6zM311.4 73.2h1.6v1.6h-1.6zM316.2 73.2h1.6v1.6h-1.6zM322.5 73.2h1.6v1.6h-1.6zM320.9 74.8h1.6v1.6h-1.6zM320.9 76.3h1.6v1.6h-1.6zM311.4 77.8h1.6v1.6h-1.6zM317.8 80.8h1.6v1.6h-1.6zM311.4 82.3h1.6v1.6h-1.6zM322.5 82.3h1.6v1.6h-1.6zM317.8 83.9h1.6v1.6h-1.6zM320.9 83.9h1.6v1.6h-1.6zM343.2 100.5h1.6v1.6h-1.6zM346.4 100.5h1.6v1.6h-1.6zM343.2 102.1h1.6v1.6h-1.6zM349.6 102.1h1.6v1.6h-1.6zM349.6 105.1h1.6v1.6h-1.6zM346.4 106.6h1.6v1.6h-1.6zM362.3 117.2h1.6v1.6h-1.6zM360.7 120.3h3.2v1.6h-3.2zM360.7 121.8h1.6v1.6h-1.6zM360.7 124.8h3.2v1.6h-3.2zM362.3 127.9h1.6v1.6h-1.6zM362.3 129.4h1.6v1.6h-1.6zM360.7 132.4h1.6v1.6h-1.6zM362.3 133.9h1.6v1.6h-1.6zM360.7 137.0h1.6v1.6h-1.6zM362.3 138.5h1.6v1.6h-1.6zM360.7 140.0h3.2v1.6h-3.2zM360.7 143.0h1.6v1.6h-1.6zM405.2 159.7h1.6v1.6h-1.6z"/>
<path fill="#009cff" d="M290.7 38.4h1.6v1.6h-1.6zM278.0 39.9h1.6v1.6h-1.6zM281.2 42.9h1.6v1.6h-1.6zM281.2 44.4h1.6v1.6h-1.6zM281.2 53.5h1.6v1.6h-1.6zM281.2 55.0h1.6v1.6h-1.6zM281.2 58.1h1.6v1.6h-1.6zM282.8 59.6h1.6v1.6h-1.6zM295.5 59.6h1.6v1.6h-1.6zM311.4 71.7h1.6v1.6h-1.6zM316.2 71.7h1.6v1.6h-1.6zM313.0 74.8h1.6v1.6h-1.6zM317.8 74.8h1.6v1.6h-1.6zM319.4 76.3h1.6v1.6h-1.6zM319.4 79.3h1.6v1.6h-1.6zM320.9 80.8h1.6v1.6h-1.6zM325.7 80.8h1.6v1.6h-1.6zM313.0 83.9h1.6v1.6h-1.6zM343.2 99.0h1.6v1.6h-1.6zM346.4 99.0h1.6v1.6h-1.6zM349.6 100.5h1.6v1.6h-1.6zM346.4 102.1h1.6v1.6h-1.6zM349.6 103.6h1.6v1.6h-1.6zM346.4 105.1h1.6v1.6h-1.6zM360.7 126.3h3.2v1.6h-3.2zM360.7 129.4h1.6v1.6h-1.6zM360.7 130.9h3.2v1.6h-3.2zM360.7 133.9h1.6v1.6h-1.6zM360.7 135.4h3.2v1.6h-3.2z"/>
<path fill="#008fff" d="M293.9 38.4h1.6v1.6h-1.6zM297.1 38.4h1.6v1.6h-1.6zM300.3 39.9h1.6v1.6h-1.6zM278.0 41.4h1.6v1.6h-1.6zM281.2 41.4h1.6v1.6h-1.6zM300.3 41.4h1.6v1.6h-1.6zM278.0 42.9h1.6v1.6h-1.6zM278.0 44.4h1.6v1.6h-1.6zM278.0 45.9h1.6v1.6h-1.6zM281.2 45.9h1.6v1.6h-1.6zM282.8 47.5h1.6v1.6h-1.6zM278.0 49.0h1.6v1.6h-1.6zM278.0 50.5h1.6v1.6h-1.6zM300.3 50.5h1.6v1.6h-1.6zM278.0 53.5h1.6v1.6h-1.6zM281.2 56.6h1.6v1.6h-1.6zM278.0 58.1h1.6v1.6h-1.6zM281.2 61.1h1.6v1.6h-1.6zM317.8 71.7h1.6v1.6h-1.6zM320.9 71.7h1.6v1.6h-1.6zM320.9 73.2h1.6v1.6h-1.6zM317.8 77.8h1.6v1.6h-1.6zM320.9 77.8h1.6v1.6h-1.6zM325.7 82.3h1.6v1.6h-1.6zM360.7 118.8h3.2v1.6h-3.2zM362.3 144.5h1.6v1.6h-1.6z"/>
<path fill="#0081ff" d="M263.7 24.7h1.6v1.6h-1.6zM286.0 38.4h1.6v1.6h-1.6zM290.7 39.9h1.6v1.6h-1.6zM290.7 41.4h1.6v1.6h-1.6zM297.1 41.4h1.6v1.6h-1.6zM290.7 42.9h1.6v1.6h-1.6zM300.3 44.4h1.6v1.6h-1.6zM290.7 45.9h1.6v1.6h-1.6zM300.3 45.9h1.6v1.6h-1.6zM281.2 47.5h1.6v1.6h-1.6zM290.7 49.0h1.6v1.6h-1.6zM290.7 50.5h1.6v1.6h-1.6zM290.7 53.5h1.6v1.6h-1.6zM300.3 53.5h1.6v1.6h-1.6zM278.0 55.0h1.6v1.6h-1.6zM290.7 55.0h1.6v1.6h-1.6zM278.0 56.6h1.6v1.6h-1.6zM290.7 56.6h1.6v1.6h-1.6zM290.7 58.1h1.6v1.6h-1.6zM281.2 59.6h1.6v1.6h-1.6zM278.0 61.1h1.6v1.6h-1.6zM290.7 61.1h1.6v1.6h-1.6zM300.3 61.1h1.6v1.6h-1.6zM319.4 68.7h1.6v1.6h-1.6zM313.0 70.2h1.6v1.6h-1.6zM319.4 74.8h1.6v1.6h-1.6zM319.4 77.8h1.6v1.6h-1.6zM313.0 79.3h1.6v1.6h-1.6zM317.8 82.3h1.6v1.6h-1.6zM320.9 82.3h1.6v1.6h-1.6zM319.4 83.9h1.6v1.6h-1.6zM346.4 103.6h1.6v1.6h-1.6z"/>
<path fill="#0074ff" d="M293.9 39.9h1.6v1.6h-1.6zM297.1 39.9h1.6v1.6h-1.6zM293.9 41.4h1.6v1.6h-1.6zM286.0 42.9h1.6v1.6h-1.6zM293.9 42.9h1.6v1.6h-1.6zM297.1 42.9h1.6v1.6h-1.6zM300.3 42.9h1.6v1.6h-1.6zM286.0 44.4h1.6v1.6h-1.6zM290.7 44.4h1.6v1.6h-1.6zM297.1 44.4h1.6v1.6h-1.6zM286.0 45.9h1.6v1.6h-1.6zM293.9 45.9h1.6v1.6h-1.6zM286.0 49.0h1.6v1.6h-1.6zM293.9 49.0h1.6v1.6h-1.6zM297.1 49.0h1.6v1.6h-1.6zM300.3 49.0h1.6v1.6h-1.6zM297.1 50.5h1.6v1.6h-1.6zM281.2 52.0h1.6v1.6h-1.6zM286.0 53.5h1.6v1.6h-1.6zM297.1 53.5h1.6v1.6h-1.6zM286.0 55.0h1.6v1.6h-1.6zM297.1 55.0h1.6v1.6h-1.6zM300.3 55.0h1.6v1.6h-1.6zM293.9 56.6h1.6v1.6h-1.6zM297.1 56.6h1.6v1.6h-1.6zM300.3 56.6h1.6v1.6h-1.6zM286.0 58.1h1.6v1.6h-1.6zM297.1 58.1h1.6v1.6h-1.6zM300.3 58.1h1.6v1.6h-1.6zM297.1 61.1h1.6v1.6h-1.6zM319.4 70.2h1.6v1.6h-1.6zM313.0 76.3h1.6v1.6h-1.6zM313.0 80.8h1.6v1.6h-1.6zM319.4 80.8h1.6v1.6h-1.6z"/>
<path fill="#0066ff" d="M286.0 39.9h1.6v1.6h-1.6zM286.0 41.4h1.6v1.6h-1.6zM293.9 44.4h1.6v1.6h-1.6zM297.1 45.9h1.6v1.6h-1.6zM278.0 47.5h1.6v1.6h-1.6zM286.0 50.5h1.6v1.6h-1.6zM293.9 50.5h1.6v1.6h-1.6zM278.0 52.0h1.6v1.6h-1.6zM293.9 55.0h1.6v1.6h-1.6zM293.9 58.1h1.6v1.6h-1.6zM286.0 61.1h1.6v1.6h-1.6zM293.9 61.1h1.6v1.6h-1.6zM313.0 71.7h1.6v1.6h-1.6zM319.4 71.7h1.6v1.6h-1.6z"/>
<path fill="#0058ff" d="M300.3 47.5h1.6v1.6h-1.6zM293.9 53.5h1.6v1.6h-1.6zM286.0 56.6h1.6v1.6h-1.6zM278.0 59.6h1.6v1.6h-1.6zM290.7 59.6h1.6v1.6h-1.6zM300.3 59.6h1.6v1.6h-1.6zM313.0 73.2h1.6v1.6h-1.6zM317.8 73.2h1.6v1.6h-1.6zM313.0 77.8h1.6v1.6h-1.6z"/>
<path fill="#004bff" d="M286.0 47.5h1.6v1.6h-1.6zM290.7 47.5h1.6v1.6h-1.6zM290.7 52.0h1.6v1.6h-1.6zM300.3 52.0h1.6v1.6h-1.6zM313.0 82.3h1.6v1.6h-1.6zM319.4 82.3h1.6v1.6h-1.6z"/>
<path fill="#003dff" d="M297.1 47.5h1.6v1.6h-1.6zM286.0 52.0h1.6v1.6h-1.6zM293.9 52.0h1.6v1.6h-1.6zM293.9 59.6h1.6v1.6h-1.6zM297.1 59.6h1.6v1.6h-1.6z"/>
<path fill="#0030ff" d="M293.9 47.5h1.6v1.6h-1.6zM297.1 52.0h1.6v1.6h-1.6zM286.0 59.6h1.6v1.6h-1.6zM319.4 73.2h1.6v1.6h-1.6z"/>
<path fill="#0000e0" d="M360.7 144.5h1.6v1.6h-1.6z"/>
<path d="M263.10 24.60H423.30" stroke="#000" stroke-width="1.20"/>
<path d="M422.70 24.00V176.90" stroke="#000" stroke-width="1.20"/>
<path d="M263.70 24.00V176.90" stroke="#000" stroke-width="1.20"/>
<path d="M263.10 176.30H423.30" stroke="#000" stroke-width="1.20"/>
<path d="M294.33 176.30v-1.5M294.33 24.60v1.5M263.70 54.35h1.5M422.70 54.35h-1.5M326.00 176.30v-1.5M326.00 24.60v1.5M263.70 84.41h1.5M422.70 84.41h-1.5M357.66 176.30v-1.5M357.66 24.60v1.5M263.70 114.47h1.5M422.70 114.47h-1.5M389.33 176.30v-1.5M389.33 24.60v1.5M263.70 144.53h1.5M422.70 144.53h-1.5" stroke="#000" stroke-width="0.9" fill="none"/>
<g font-family="'Liberation Serif',serif" font-size="12" fill="#000">
<text x="294.33" y="190.00" text-anchor="middle">20</text>
<text x="261.00" y="58.65" text-anchor="end">20</text>
<text x="326.00" y="190.00" text-anchor="middle">40</text>
<text x="261.00" y="88.71" text-anchor="end">40</text>
<text x="357.66" y="190.00" text-anchor="middle">60</text>
<text x="261.00" y="118.77" text-anchor="end">60</text>
<text x="389.33" y="190.00" text-anchor="middle">80</text>
<text x="261.00" y="148.83" text-anchor="end">80</text>
<text x="422.50" y="190.00" text-anchor="middle">100</text>
<text x="261.00" y="179.80" text-anchor="end">100</text>
</g>
<text x="343.20" y="12.90" text-anchor="middle" font-family="'Liberation Serif',serif" font-size="17" fill="#000">Model2 B<tspan font-size="20" dx="-0.8" dy="1.3">×</tspan><tspan dx="-0.8" dy="-1.3">A</tspan></text>
<rect x="435.70" y="24.60" width="18.40" height="151.70" fill="url(#cb)" stroke="#000" stroke-width="1.1"/>
<path d="M435.70 145.96h1.8M454.10 145.96h-1.8M435.70 115.62h1.8M454.10 115.62h-1.8M435.70 85.28h1.8M454.10 85.28h-1.8M435.70 54.94h1.8M454.10 54.94h-1.8" stroke="#000" stroke-width="0.9" fill="none"/>
<g font-family="'Liberation Serif',serif" font-size="12" fill="#000">
<text x="456.50" y="180.80">0</text>
<text x="456.50" y="150.46">0.2</text>
<text x="456.50" y="120.12">0.4</text>
<text x="456.50" y="89.78">0.6</text>
<text x="456.50" y="59.44">0.8</text>
<text x="456.50" y="29.10">1</text>
</g>
</g>
<g>
<rect x="19.60" y="235.00" width="162.40" height="151.50" fill="#f3ffff"/>
<path fill="#7effff" d="M154.4 360.8h1.7v1.6h-1.7zM156.0 362.4h1.7v1.6h-1.7zM157.6 363.9h1.7v1.6h-1.7zM159.3 365.4h1.7v1.6h-1.7z"/>
<path fill="#71ffff" d="M136.5 344.2h1.7v1.6h-1.7zM138.2 345.7h1.7v1.6h-1.7zM139.8 347.2h1.7v1.6h-1.7zM141.4 348.7h1.7v1.6h-1.7zM143.0 350.2h1.7v1.6h-1.7zM144.6 351.8h1.7v1.6h-1.7zM146.3 353.3h1.7v1.6h-1.7zM147.9 354.8h1.7v1.6h-1.7z"/>
<path fill="#57ffff" d="M97.6 307.8h1.7v1.6h-1.7z"/>
<path fill="#31ffff" d="M24.5 239.6h1.7v1.6h-1.7zM92.7 303.3h1.7v1.6h-1.7zM95.9 306.3h1.7v1.6h-1.7zM110.5 319.9h1.7v1.6h-1.7zM123.5 332.1h1.7v1.6h-1.7zM126.8 335.1h1.7v1.6h-1.7zM128.4 336.6h1.7v1.6h-1.7zM130.0 338.1h1.7v1.6h-1.7zM131.7 339.6h1.7v1.6h-1.7zM133.3 341.2h1.7v1.6h-1.7zM134.9 342.7h1.7v1.6h-1.7z"/>
<path fill="#0affff" d="M63.4 276.0h1.7v1.6h-1.7z"/>
<path fill="#00fcff" d="M65.1 277.5h1.7v1.6h-1.7zM87.8 298.7h1.7v1.6h-1.7zM108.9 318.4h1.7v1.6h-1.7zM113.8 323.0h1.7v1.6h-1.7z"/>
<path fill="#00eeff" d="M29.3 244.2h1.7v1.6h-1.7zM86.2 297.2h1.7v1.6h-1.7zM149.5 356.3h1.7v1.6h-1.7zM151.1 357.8h1.7v1.6h-1.7zM152.8 359.3h1.7v1.6h-1.7z"/>
<path fill="#00e0ff" d="M31.0 245.7h1.7v1.6h-1.7zM91.1 301.8h1.7v1.6h-1.7z"/>
<path fill="#00d3ff" d="M26.1 241.2h1.7v1.6h-1.7z"/>
<path fill="#00aaff" d="M160.9 366.9h1.7v1.6h-1.7zM162.5 368.4h1.7v1.6h-1.7zM164.1 369.9h1.7v1.6h-1.7zM165.8 371.5h1.7v1.6h-1.7zM167.4 373.0h1.7v1.6h-1.7zM169.0 374.5h1.7v1.6h-1.7zM170.6 376.0h1.7v1.6h-1.7zM172.3 377.5h1.7v1.6h-1.7zM173.9 379.0h1.7v1.6h-1.7zM175.5 380.5h1.7v1.6h-1.7zM177.1 382.1h1.7v1.6h-1.7zM178.8 383.6h1.7v1.6h-1.7z"/>
<path fill="#0074ff" d="M180.4 385.1h1.7v1.6h-1.7z"/>
<path d="M19.00 235.00H182.60" stroke="#4a4a4a" stroke-width="1.20"/>
<path d="M182.00 234.40V387.10" stroke="#4a4a4a" stroke-width="1.20"/>
<path d="M19.60 234.40V387.10" stroke="#000" stroke-width="1.20"/>
<path d="M19.00 386.50H182.60" stroke="#000" stroke-width="1.20"/>
<path d="M50.83 386.50v-1.5M50.83 235.00v1.5M19.60 264.50h1.5M182.00 264.50h-1.5M83.23 386.50v-1.5M83.23 235.00v1.5M19.60 294.60h1.5M182.00 294.60h-1.5M115.63 386.50v-1.5M115.63 235.00v1.5M19.60 324.70h1.5M182.00 324.70h-1.5M148.03 386.50v-1.5M148.03 235.00v1.5M19.60 354.80h1.5M182.00 354.80h-1.5" stroke="#000" stroke-width="0.9" fill="none"/>
<g font-family="'Liberation Serif',serif" font-size="12" fill="#000">
<text x="50.83" y="400.20" text-anchor="middle">20</text>
<text x="16.90" y="268.80" text-anchor="end">20</text>
<text x="83.23" y="400.20" text-anchor="middle">40</text>
<text x="16.90" y="298.90" text-anchor="end">40</text>
<text x="115.63" y="400.20" text-anchor="middle">60</text>
<text x="16.90" y="329.00" text-anchor="end">60</text>
<text x="148.03" y="400.20" text-anchor="middle">80</text>
<text x="16.90" y="359.10" text-anchor="end">80</text>
<text x="181.80" y="400.20" text-anchor="middle">100</text>
<text x="16.90" y="390.00" text-anchor="end">100</text>
</g>
<text x="100.80" y="223.30" text-anchor="middle" font-family="'Liberation Serif',serif" font-size="17" fill="#000">Model2 C</text>
<rect x="196.00" y="235.00" width="18.20" height="151.50" fill="url(#cb)" stroke="#333" stroke-width="1.1"/>
<path d="M196.00 356.20h1.8M214.20 356.20h-1.8M196.00 325.90h1.8M214.20 325.90h-1.8M196.00 295.60h1.8M214.20 295.60h-1.8M196.00 265.30h1.8M214.20 265.30h-1.8" stroke="#000" stroke-width="0.9" fill="none"/>
<g font-family="'Liberation Serif',serif" font-size="12" fill="#000">
<text x="216.60" y="391.00">0</text>
<text x="216.60" y="360.70">0.2</text>
<text x="216.60" y="330.40">0.4</text>
<text x="216.60" y="300.10">0.6</text>
<text x="216.60" y="269.80">0.8</text>
<text x="216.60" y="239.50">1</text>
</g>
</g>
<g>
<rect x="261.90" y="235.20" width="158.10" height="151.30" fill="#f3ffff"/>
<rect x="276.13" y="248.92" width="25.30" height="24.21" fill="#00d3ff"/>
<rect x="307.75" y="279.18" width="17.39" height="16.64" fill="#00d3ff"/>
<rect x="339.37" y="309.44" width="9.49" height="9.08" fill="#00d3ff"/>
<rect x="355.18" y="324.57" width="7.91" height="31.77" fill="#00d3ff"/>
<path fill="#d9ffff" d="M276.1 235.3h1.6v1.6h-1.6zM287.2 235.3h1.6v1.6h-1.6zM293.5 235.3h1.6v1.6h-1.6zM307.7 235.3h1.6v1.6h-1.6zM312.5 235.3h1.6v1.6h-1.6zM322.0 235.3h1.6v1.6h-1.6zM287.2 236.8h3.2v1.6h-3.2zM293.5 236.8h1.6v1.6h-1.6zM314.1 236.8h1.6v1.6h-1.6zM320.4 236.8h3.2v1.6h-3.2zM356.8 236.8h1.6v1.6h-1.6zM383.6 236.8h1.6v1.6h-1.6zM391.5 236.8h1.6v1.6h-1.6zM394.7 236.8h1.6v1.6h-1.6zM288.8 238.3h1.6v1.6h-1.6zM298.3 238.3h1.6v1.6h-1.6zM345.7 238.3h1.6v1.6h-1.6zM356.8 238.3h1.6v1.6h-1.6zM361.5 238.3h1.6v1.6h-1.6zM366.2 238.3h1.6v1.6h-1.6zM383.6 238.3h1.6v1.6h-1.6zM394.7 238.3h1.6v1.6h-1.6zM288.8 239.8h1.6v1.6h-1.6zM299.8 239.8h1.6v1.6h-1.6zM309.3 239.8h1.6v1.6h-1.6zM314.1 239.8h1.6v1.6h-1.6zM317.2 239.8h1.6v1.6h-1.6zM322.0 239.8h1.6v1.6h-1.6zM342.5 239.8h1.6v1.6h-1.6zM345.7 239.8h1.6v1.6h-1.6zM394.7 239.8h1.6v1.6h-1.6zM401.0 239.8h1.6v1.6h-1.6zM299.8 241.4h1.6v1.6h-1.6zM309.3 241.4h1.6v1.6h-1.6zM312.5 241.4h1.6v1.6h-1.6zM322.0 241.4h1.6v1.6h-1.6zM355.2 241.4h1.6v1.6h-1.6zM364.7 241.4h3.2v1.6h-3.2zM401.0 241.4h1.6v1.6h-1.6zM413.7 241.4h1.6v1.6h-1.6zM299.8 242.9h1.6v1.6h-1.6zM323.6 242.9h1.6v1.6h-1.6zM355.2 242.9h1.6v1.6h-1.6zM394.7 242.9h1.6v1.6h-1.6zM413.7 242.9h1.6v1.6h-1.6zM318.8 244.4h1.6v1.6h-1.6zM342.5 244.4h1.6v1.6h-1.6zM386.8 244.4h1.6v1.6h-1.6zM394.7 244.4h1.6v1.6h-1.6zM279.3 245.9h1.6v1.6h-1.6zM282.5 245.9h1.6v1.6h-1.6zM298.3 245.9h1.6v1.6h-1.6zM307.7 245.9h1.6v1.6h-1.6zM394.7 245.9h1.6v1.6h-1.6zM307.7 247.4h3.2v1.6h-3.2zM312.5 247.4h1.6v1.6h-1.6zM322.0 247.4h1.6v1.6h-1.6zM340.9 247.4h1.6v1.6h-1.6zM371.0 247.4h1.6v1.6h-1.6zM394.7 247.4h1.6v1.6h-1.6zM322.0 248.9h1.6v1.6h-1.6zM339.4 248.9h1.6v1.6h-1.6zM371.0 248.9h1.6v1.6h-1.6zM309.3 250.4h1.6v1.6h-1.6zM339.4 250.4h1.6v1.6h-1.6zM344.1 250.4h1.6v1.6h-1.6zM361.5 250.4h1.6v1.6h-1.6zM371.0 250.4h1.6v1.6h-1.6zM383.6 250.4h1.6v1.6h-1.6zM391.5 250.4h1.6v1.6h-1.6zM318.8 251.9h3.2v1.6h-3.2zM339.4 251.9h1.6v1.6h-1.6zM344.1 251.9h3.2v1.6h-3.2zM355.2 251.9h1.6v1.6h-1.6zM358.3 251.9h1.6v1.6h-1.6zM371.0 251.9h1.6v1.6h-1.6zM320.4 253.5h1.6v1.6h-1.6zM339.4 253.5h1.6v1.6h-1.6zM344.1 253.5h1.6v1.6h-1.6zM355.2 253.5h1.6v1.6h-1.6zM358.3 253.5h1.6v1.6h-1.6zM361.5 253.5h1.6v1.6h-1.6zM366.2 253.5h1.6v1.6h-1.6zM383.6 253.5h1.6v1.6h-1.6zM310.9 255.0h1.6v1.6h-1.6zM344.1 255.0h1.6v1.6h-1.6zM358.3 255.0h1.6v1.6h-1.6zM361.5 255.0h1.6v1.6h-1.6zM386.8 255.0h1.6v1.6h-1.6zM394.7 255.0h1.6v1.6h-1.6zM401.0 255.0h1.6v1.6h-1.6zM310.9 256.5h1.6v1.6h-1.6zM344.1 256.5h1.6v1.6h-1.6zM358.3 256.5h3.2v1.6h-3.2zM364.7 256.5h3.2v1.6h-3.2zM394.7 256.5h1.6v1.6h-1.6zM401.0 256.5h1.6v1.6h-1.6zM413.7 256.5h1.6v1.6h-1.6zM310.9 258.0h1.6v1.6h-1.6zM320.4 258.0h1.6v1.6h-1.6zM344.1 258.0h1.6v1.6h-1.6zM356.8 258.0h4.8v1.6h-4.8zM383.6 258.0h1.6v1.6h-1.6zM386.8 258.0h1.6v1.6h-1.6zM413.7 258.0h3.2v1.6h-3.2zM310.9 259.5h1.6v1.6h-1.6zM314.1 259.5h1.6v1.6h-1.6zM322.0 259.5h3.2v1.6h-3.2zM356.8 259.5h3.2v1.6h-3.2zM383.6 259.5h1.6v1.6h-1.6zM386.8 259.5h1.6v1.6h-1.6zM397.9 259.5h1.6v1.6h-1.6zM415.3 259.5h1.6v1.6h-1.6zM312.5 261.0h3.2v1.6h-3.2zM371.0 261.0h1.6v1.6h-1.6zM386.8 261.0h1.6v1.6h-1.6zM394.7 261.0h1.6v1.6h-1.6zM413.7 261.0h1.6v1.6h-1.6zM310.9 262.5h1.6v1.6h-1.6zM344.1 262.5h3.2v1.6h-3.2zM355.2 262.5h1.6v1.6h-1.6zM361.5 262.5h1.6v1.6h-1.6zM386.8 262.5h1.6v1.6h-1.6zM309.3 264.0h3.2v1.6h-3.2zM344.1 264.0h3.2v1.6h-3.2zM355.2 264.0h1.6v1.6h-1.6zM361.5 264.0h1.6v1.6h-1.6zM371.0 264.0h1.6v1.6h-1.6zM377.3 264.0h1.6v1.6h-1.6zM383.6 264.0h1.6v1.6h-1.6zM401.0 264.0h1.6v1.6h-1.6zM310.9 265.6h1.6v1.6h-1.6zM317.2 265.6h1.6v1.6h-1.6zM326.7 265.6h1.6v1.6h-1.6zM356.8 265.6h6.4v1.6h-6.4zM366.2 265.6h1.6v1.6h-1.6zM377.3 265.6h1.6v1.6h-1.6zM391.5 265.6h1.6v1.6h-1.6zM401.0 265.6h1.6v1.6h-1.6zM307.7 267.1h1.6v1.6h-1.6zM310.9 267.1h3.2v1.6h-3.2zM317.2 267.1h1.6v1.6h-1.6zM358.3 267.1h1.6v1.6h-1.6zM371.0 267.1h1.6v1.6h-1.6zM391.5 267.1h1.6v1.6h-1.6zM397.9 267.1h1.6v1.6h-1.6zM401.0 267.1h1.6v1.6h-1.6zM415.3 267.1h1.6v1.6h-1.6zM309.3 268.6h4.8v1.6h-4.8zM356.8 268.6h1.6v1.6h-1.6zM361.5 268.6h1.6v1.6h-1.6zM371.0 268.6h1.6v1.6h-1.6zM383.6 268.6h1.6v1.6h-1.6zM386.8 268.6h1.6v1.6h-1.6zM401.0 268.6h1.6v1.6h-1.6zM309.3 270.1h1.6v1.6h-1.6zM312.5 270.1h3.2v1.6h-3.2zM356.8 270.1h3.2v1.6h-3.2zM361.5 270.1h1.6v1.6h-1.6zM401.0 270.1h1.6v1.6h-1.6zM312.5 271.6h1.6v1.6h-1.6zM356.8 271.6h3.2v1.6h-3.2zM361.5 271.6h1.6v1.6h-1.6zM386.8 271.6h1.6v1.6h-1.6zM401.0 271.6h1.6v1.6h-1.6zM413.7 271.6h1.6v1.6h-1.6zM276.1 273.1h1.6v1.6h-1.6zM279.3 273.1h3.2v1.6h-3.2zM288.8 273.1h1.6v1.6h-1.6zM291.9 273.1h1.6v1.6h-1.6zM312.5 273.1h1.6v1.6h-1.6zM323.6 273.1h1.6v1.6h-1.6zM345.7 273.1h1.6v1.6h-1.6zM366.2 273.1h1.6v1.6h-1.6zM383.6 273.1h1.6v1.6h-1.6zM386.8 273.1h1.6v1.6h-1.6zM285.6 274.6h3.2v1.6h-3.2zM291.9 274.6h1.6v1.6h-1.6zM318.8 274.6h1.6v1.6h-1.6zM323.6 274.6h1.6v1.6h-1.6zM366.2 274.6h1.6v1.6h-1.6zM383.6 274.6h1.6v1.6h-1.6zM386.8 274.6h1.6v1.6h-1.6zM287.2 276.2h1.6v1.6h-1.6zM307.7 276.2h1.6v1.6h-1.6zM345.7 276.2h1.6v1.6h-1.6zM366.2 276.2h1.6v1.6h-1.6zM391.5 276.2h1.6v1.6h-1.6zM284.0 277.7h1.6v1.6h-1.6zM307.7 277.7h1.6v1.6h-1.6zM310.9 277.7h3.2v1.6h-3.2zM339.4 277.7h1.6v1.6h-1.6zM342.5 277.7h1.6v1.6h-1.6zM345.7 277.7h1.6v1.6h-1.6zM391.5 277.7h1.6v1.6h-1.6zM413.7 277.7h1.6v1.6h-1.6zM291.9 279.2h1.6v1.6h-1.6zM298.3 279.2h1.6v1.6h-1.6zM342.5 279.2h1.6v1.6h-1.6zM359.9 279.2h1.6v1.6h-1.6zM366.2 279.2h1.6v1.6h-1.6zM383.6 279.2h1.6v1.6h-1.6zM413.7 279.2h1.6v1.6h-1.6zM299.8 280.7h1.6v1.6h-1.6zM342.5 280.7h1.6v1.6h-1.6zM386.8 280.7h1.6v1.6h-1.6zM391.5 280.7h1.6v1.6h-1.6zM291.9 282.2h1.6v1.6h-1.6zM299.8 282.2h1.6v1.6h-1.6zM339.4 282.2h1.6v1.6h-1.6zM377.3 282.2h1.6v1.6h-1.6zM383.6 282.2h1.6v1.6h-1.6zM386.8 282.2h1.6v1.6h-1.6zM391.5 282.2h1.6v1.6h-1.6zM397.9 282.2h1.6v1.6h-1.6zM280.9 283.7h1.6v1.6h-1.6zM293.5 283.7h3.2v1.6h-3.2zM298.3 283.7h1.6v1.6h-1.6zM358.3 283.7h1.6v1.6h-1.6zM361.5 283.7h1.6v1.6h-1.6zM366.2 283.7h1.6v1.6h-1.6zM383.6 283.7h1.6v1.6h-1.6zM394.7 283.7h1.6v1.6h-1.6zM397.9 283.7h1.6v1.6h-1.6zM415.3 283.7h1.6v1.6h-1.6zM282.5 285.2h1.6v1.6h-1.6zM290.4 285.2h1.6v1.6h-1.6zM295.1 285.2h1.6v1.6h-1.6zM340.9 285.2h1.6v1.6h-1.6zM359.9 285.2h1.6v1.6h-1.6zM364.7 285.2h3.2v1.6h-3.2zM377.3 285.2h1.6v1.6h-1.6zM394.7 285.2h1.6v1.6h-1.6zM397.9 285.2h1.6v1.6h-1.6zM415.3 285.2h1.6v1.6h-1.6zM282.5 286.7h1.6v1.6h-1.6zM293.5 286.7h4.8v1.6h-4.8zM340.9 286.7h1.6v1.6h-1.6zM366.2 286.7h1.6v1.6h-1.6zM394.7 286.7h1.6v1.6h-1.6zM397.9 286.7h1.6v1.6h-1.6zM415.3 286.7h1.6v1.6h-1.6zM276.1 288.3h1.6v1.6h-1.6zM282.5 288.3h1.6v1.6h-1.6zM383.6 288.3h1.6v1.6h-1.6zM276.1 289.8h1.6v1.6h-1.6zM347.3 289.8h1.6v1.6h-1.6zM358.3 289.8h1.6v1.6h-1.6zM386.8 289.8h1.6v1.6h-1.6zM415.3 289.8h1.6v1.6h-1.6zM285.6 291.3h1.6v1.6h-1.6zM342.5 291.3h1.6v1.6h-1.6zM347.3 291.3h1.6v1.6h-1.6zM355.2 292.8h1.6v1.6h-1.6zM377.3 292.8h1.6v1.6h-1.6zM415.3 292.8h1.6v1.6h-1.6zM282.5 294.3h1.6v1.6h-1.6zM296.7 294.3h1.6v1.6h-1.6zM299.8 294.3h1.6v1.6h-1.6zM336.2 294.3h1.6v1.6h-1.6zM342.5 294.3h1.6v1.6h-1.6zM355.2 294.3h1.6v1.6h-1.6zM377.3 294.3h1.6v1.6h-1.6zM397.9 294.3h1.6v1.6h-1.6zM277.7 295.8h1.6v1.6h-1.6zM284.0 295.8h1.6v1.6h-1.6zM299.8 295.8h1.6v1.6h-1.6zM307.7 295.8h3.2v1.6h-3.2zM312.5 295.8h1.6v1.6h-1.6zM322.0 295.8h1.6v1.6h-1.6zM342.5 295.8h1.6v1.6h-1.6zM358.3 295.8h1.6v1.6h-1.6zM397.9 295.8h1.6v1.6h-1.6zM415.3 295.8h1.6v1.6h-1.6zM280.9 297.3h1.6v1.6h-1.6zM291.9 297.3h1.6v1.6h-1.6zM299.8 297.3h1.6v1.6h-1.6zM307.7 297.3h1.6v1.6h-1.6zM314.1 297.3h1.6v1.6h-1.6zM322.0 297.3h1.6v1.6h-1.6zM345.7 297.3h3.2v1.6h-3.2zM358.3 297.3h1.6v1.6h-1.6zM371.0 297.3h1.6v1.6h-1.6zM377.3 297.3h1.6v1.6h-1.6zM383.6 297.3h1.6v1.6h-1.6zM397.9 297.3h1.6v1.6h-1.6zM401.0 297.3h1.6v1.6h-1.6zM277.7 298.8h1.6v1.6h-1.6zM284.0 298.8h1.6v1.6h-1.6zM291.9 298.8h1.6v1.6h-1.6zM295.1 298.8h1.6v1.6h-1.6zM299.8 298.8h1.6v1.6h-1.6zM340.9 298.8h3.2v1.6h-3.2zM347.3 298.8h1.6v1.6h-1.6zM361.5 298.8h1.6v1.6h-1.6zM366.2 298.8h1.6v1.6h-1.6zM386.8 298.8h1.6v1.6h-1.6zM284.0 300.4h1.6v1.6h-1.6zM322.0 300.4h1.6v1.6h-1.6zM340.9 300.4h1.6v1.6h-1.6zM377.3 300.4h1.6v1.6h-1.6zM383.6 300.4h1.6v1.6h-1.6zM391.5 300.4h1.6v1.6h-1.6zM413.7 300.4h1.6v1.6h-1.6zM276.1 301.9h3.2v1.6h-3.2zM282.5 301.9h3.2v1.6h-3.2zM293.5 301.9h3.2v1.6h-3.2zM314.1 301.9h1.6v1.6h-1.6zM383.6 301.9h1.6v1.6h-1.6zM391.5 301.9h1.6v1.6h-1.6zM394.7 301.9h1.6v1.6h-1.6zM401.0 301.9h1.6v1.6h-1.6zM413.7 301.9h1.6v1.6h-1.6zM277.7 303.4h1.6v1.6h-1.6zM282.5 303.4h1.6v1.6h-1.6zM295.1 303.4h1.6v1.6h-1.6zM307.7 303.4h3.2v1.6h-3.2zM322.0 303.4h3.2v1.6h-3.2zM391.5 303.4h1.6v1.6h-1.6zM394.7 303.4h1.6v1.6h-1.6zM277.7 304.9h1.6v1.6h-1.6zM309.3 304.9h3.2v1.6h-3.2zM323.6 304.9h1.6v1.6h-1.6zM339.4 304.9h3.2v1.6h-3.2zM355.2 304.9h1.6v1.6h-1.6zM391.5 304.9h1.6v1.6h-1.6zM413.7 304.9h1.6v1.6h-1.6zM277.7 306.4h1.6v1.6h-1.6zM307.7 306.4h4.8v1.6h-4.8zM323.6 306.4h1.6v1.6h-1.6zM340.9 306.4h1.6v1.6h-1.6zM347.3 306.4h1.6v1.6h-1.6zM358.3 306.4h3.2v1.6h-3.2zM366.2 306.4h1.6v1.6h-1.6zM386.8 306.4h1.6v1.6h-1.6zM284.0 307.9h1.6v1.6h-1.6zM309.3 307.9h3.2v1.6h-3.2zM342.5 307.9h3.2v1.6h-3.2zM364.7 307.9h1.6v1.6h-1.6zM377.3 307.9h1.6v1.6h-1.6zM386.8 307.9h1.6v1.6h-1.6zM394.7 307.9h1.6v1.6h-1.6zM401.0 307.9h1.6v1.6h-1.6zM285.6 309.4h1.6v1.6h-1.6zM307.7 309.4h1.6v1.6h-1.6zM310.9 309.4h1.6v1.6h-1.6zM320.4 309.4h3.2v1.6h-3.2zM364.7 309.4h1.6v1.6h-1.6zM401.0 309.4h1.6v1.6h-1.6zM284.0 310.9h3.2v1.6h-3.2zM298.3 310.9h1.6v1.6h-1.6zM309.3 310.9h3.2v1.6h-3.2zM314.1 310.9h3.2v1.6h-3.2zM320.4 310.9h3.2v1.6h-3.2zM359.9 310.9h1.6v1.6h-1.6zM364.7 310.9h1.6v1.6h-1.6zM371.0 310.9h1.6v1.6h-1.6zM401.0 310.9h1.6v1.6h-1.6zM413.7 310.9h1.6v1.6h-1.6zM273.0 312.5h1.6v1.6h-1.6zM284.0 312.5h1.6v1.6h-1.6zM298.3 312.5h1.6v1.6h-1.6zM309.3 312.5h1.6v1.6h-1.6zM314.1 312.5h3.2v1.6h-3.2zM371.0 312.5h1.6v1.6h-1.6zM386.8 312.5h1.6v1.6h-1.6zM413.7 312.5h1.6v1.6h-1.6zM276.1 314.0h1.6v1.6h-1.6zM288.8 314.0h1.6v1.6h-1.6zM309.3 314.0h1.6v1.6h-1.6zM358.3 314.0h1.6v1.6h-1.6zM366.2 314.0h1.6v1.6h-1.6zM383.6 314.0h1.6v1.6h-1.6zM279.3 315.5h1.6v1.6h-1.6zM288.8 315.5h1.6v1.6h-1.6zM309.3 315.5h3.2v1.6h-3.2zM318.8 315.5h1.6v1.6h-1.6zM358.3 315.5h1.6v1.6h-1.6zM364.7 315.5h3.2v1.6h-3.2zM394.7 315.5h1.6v1.6h-1.6zM288.8 317.0h3.2v1.6h-3.2zM299.8 317.0h1.6v1.6h-1.6zM309.3 317.0h1.6v1.6h-1.6zM312.5 317.0h1.6v1.6h-1.6zM318.8 317.0h1.6v1.6h-1.6zM361.5 317.0h1.6v1.6h-1.6zM288.8 318.5h1.6v1.6h-1.6zM299.8 318.5h1.6v1.6h-1.6zM309.3 318.5h1.6v1.6h-1.6zM315.7 318.5h1.6v1.6h-1.6zM318.8 318.5h1.6v1.6h-1.6zM342.5 318.5h1.6v1.6h-1.6zM347.3 318.5h1.6v1.6h-1.6zM355.2 318.5h1.6v1.6h-1.6zM361.5 318.5h1.6v1.6h-1.6zM377.3 318.5h1.6v1.6h-1.6zM394.7 318.5h1.6v1.6h-1.6zM287.2 320.0h1.6v1.6h-1.6zM290.4 320.0h1.6v1.6h-1.6zM293.5 320.0h1.6v1.6h-1.6zM309.3 320.0h1.6v1.6h-1.6zM315.7 320.0h1.6v1.6h-1.6zM318.8 320.0h1.6v1.6h-1.6zM342.5 320.0h1.6v1.6h-1.6zM347.3 320.0h1.6v1.6h-1.6zM366.2 320.0h1.6v1.6h-1.6zM413.7 320.0h3.2v1.6h-3.2zM309.3 321.5h1.6v1.6h-1.6zM315.7 321.5h1.6v1.6h-1.6zM318.8 321.5h1.6v1.6h-1.6zM322.0 321.5h1.6v1.6h-1.6zM339.4 321.5h3.2v1.6h-3.2zM361.5 321.5h1.6v1.6h-1.6zM371.0 321.5h1.6v1.6h-1.6zM415.3 321.5h1.6v1.6h-1.6zM282.5 323.1h1.6v1.6h-1.6zM291.9 323.1h1.6v1.6h-1.6zM296.7 323.1h1.6v1.6h-1.6zM312.5 323.1h1.6v1.6h-1.6zM318.8 323.1h1.6v1.6h-1.6zM322.0 323.1h1.6v1.6h-1.6zM339.4 323.1h1.6v1.6h-1.6zM344.1 323.1h1.6v1.6h-1.6zM415.3 323.1h1.6v1.6h-1.6zM282.5 324.6h1.6v1.6h-1.6zM285.6 324.6h1.6v1.6h-1.6zM290.4 324.6h4.8v1.6h-4.8zM299.8 324.6h1.6v1.6h-1.6zM310.9 324.6h1.6v1.6h-1.6zM339.4 324.6h1.6v1.6h-1.6zM377.3 324.6h1.6v1.6h-1.6zM386.8 324.6h1.6v1.6h-1.6zM415.3 324.6h1.6v1.6h-1.6zM279.3 326.1h1.6v1.6h-1.6zM288.8 326.1h1.6v1.6h-1.6zM295.1 326.1h1.6v1.6h-1.6zM347.3 326.1h1.6v1.6h-1.6zM377.3 326.1h1.6v1.6h-1.6zM383.6 326.1h1.6v1.6h-1.6zM276.1 327.6h1.6v1.6h-1.6zM288.8 327.6h1.6v1.6h-1.6zM296.7 327.6h1.6v1.6h-1.6zM299.8 327.6h1.6v1.6h-1.6zM309.3 327.6h1.6v1.6h-1.6zM315.7 327.6h3.2v1.6h-3.2zM344.1 327.6h1.6v1.6h-1.6zM366.2 327.6h1.6v1.6h-1.6zM383.6 327.6h1.6v1.6h-1.6zM276.1 329.1h1.6v1.6h-1.6zM288.8 329.1h1.6v1.6h-1.6zM291.9 329.1h1.6v1.6h-1.6zM296.7 329.1h1.6v1.6h-1.6zM299.8 329.1h1.6v1.6h-1.6zM309.3 329.1h3.2v1.6h-3.2zM322.0 329.1h1.6v1.6h-1.6zM339.4 329.1h1.6v1.6h-1.6zM371.0 329.1h1.6v1.6h-1.6zM391.5 329.1h1.6v1.6h-1.6zM397.9 329.1h1.6v1.6h-1.6zM415.3 329.1h1.6v1.6h-1.6zM277.7 330.6h1.6v1.6h-1.6zM285.6 330.6h1.6v1.6h-1.6zM288.8 330.6h1.6v1.6h-1.6zM293.5 330.6h1.6v1.6h-1.6zM323.6 330.6h1.6v1.6h-1.6zM364.7 330.6h1.6v1.6h-1.6zM371.0 330.6h1.6v1.6h-1.6zM391.5 330.6h1.6v1.6h-1.6zM415.3 330.6h1.6v1.6h-1.6zM277.7 332.1h3.2v1.6h-3.2zM288.8 332.1h1.6v1.6h-1.6zM293.5 332.1h1.6v1.6h-1.6zM314.1 332.1h1.6v1.6h-1.6zM391.5 332.1h1.6v1.6h-1.6zM290.4 333.6h1.6v1.6h-1.6zM295.1 333.6h1.6v1.6h-1.6zM299.8 333.6h1.6v1.6h-1.6zM310.9 333.6h3.2v1.6h-3.2zM315.7 333.6h1.6v1.6h-1.6zM345.7 333.6h1.6v1.6h-1.6zM371.0 333.6h1.6v1.6h-1.6zM282.5 335.2h1.6v1.6h-1.6zM288.8 335.2h3.2v1.6h-3.2zM312.5 335.2h1.6v1.6h-1.6zM317.2 335.2h1.6v1.6h-1.6zM322.0 335.2h1.6v1.6h-1.6zM345.7 335.2h1.6v1.6h-1.6zM377.3 335.2h1.6v1.6h-1.6zM413.7 335.2h3.2v1.6h-3.2zM282.5 336.7h1.6v1.6h-1.6zM288.8 336.7h3.2v1.6h-3.2zM299.8 336.7h1.6v1.6h-1.6zM394.7 336.7h1.6v1.6h-1.6zM279.3 338.2h1.6v1.6h-1.6zM288.8 338.2h1.6v1.6h-1.6zM291.9 338.2h1.6v1.6h-1.6zM310.9 338.2h1.6v1.6h-1.6zM322.0 338.2h1.6v1.6h-1.6zM366.2 338.2h1.6v1.6h-1.6zM393.1 338.2h1.6v1.6h-1.6zM397.9 338.2h1.6v1.6h-1.6zM415.3 338.2h1.6v1.6h-1.6zM276.1 339.7h1.6v1.6h-1.6zM312.5 339.7h1.6v1.6h-1.6zM322.0 339.7h1.6v1.6h-1.6zM397.9 339.7h1.6v1.6h-1.6zM415.3 339.7h1.6v1.6h-1.6zM276.1 341.2h1.6v1.6h-1.6zM287.2 341.2h1.6v1.6h-1.6zM296.7 341.2h1.6v1.6h-1.6zM312.5 341.2h3.2v1.6h-3.2zM342.5 341.2h1.6v1.6h-1.6zM347.3 341.2h1.6v1.6h-1.6zM366.2 341.2h1.6v1.6h-1.6zM380.5 341.2h1.6v1.6h-1.6zM415.3 341.2h1.6v1.6h-1.6zM276.1 342.7h1.6v1.6h-1.6zM285.6 342.7h1.6v1.6h-1.6zM296.7 342.7h1.6v1.6h-1.6zM310.9 342.7h1.6v1.6h-1.6zM314.1 342.7h1.6v1.6h-1.6zM340.9 342.7h1.6v1.6h-1.6zM383.6 342.7h1.6v1.6h-1.6zM296.7 344.2h1.6v1.6h-1.6zM312.5 344.2h1.6v1.6h-1.6zM315.7 344.2h1.6v1.6h-1.6zM318.8 344.2h1.6v1.6h-1.6zM340.9 344.2h1.6v1.6h-1.6zM345.7 344.2h1.6v1.6h-1.6zM383.6 344.2h1.6v1.6h-1.6zM386.8 344.2h1.6v1.6h-1.6zM397.9 344.2h1.6v1.6h-1.6zM298.3 345.7h3.2v1.6h-3.2zM309.3 345.7h1.6v1.6h-1.6zM312.5 345.7h3.2v1.6h-3.2zM340.9 345.7h1.6v1.6h-1.6zM345.7 345.7h1.6v1.6h-1.6zM366.2 345.7h1.6v1.6h-1.6zM391.5 345.7h1.6v1.6h-1.6zM397.9 345.7h1.6v1.6h-1.6zM401.0 345.7h1.6v1.6h-1.6zM276.1 347.3h1.6v1.6h-1.6zM298.3 347.3h1.6v1.6h-1.6zM320.4 347.3h1.6v1.6h-1.6zM345.7 347.3h3.2v1.6h-3.2zM364.7 347.3h1.6v1.6h-1.6zM401.0 347.3h1.6v1.6h-1.6zM276.1 348.8h1.6v1.6h-1.6zM287.2 348.8h1.6v1.6h-1.6zM309.3 348.8h1.6v1.6h-1.6zM315.7 348.8h1.6v1.6h-1.6zM318.8 348.8h3.2v1.6h-3.2zM364.7 348.8h1.6v1.6h-1.6zM371.0 348.8h1.6v1.6h-1.6zM397.9 348.8h1.6v1.6h-1.6zM279.3 350.3h3.2v1.6h-3.2zM288.8 350.3h1.6v1.6h-1.6zM295.1 350.3h1.6v1.6h-1.6zM310.9 350.3h1.6v1.6h-1.6zM314.1 350.3h3.2v1.6h-3.2zM320.4 350.3h1.6v1.6h-1.6zM347.3 350.3h1.6v1.6h-1.6zM364.7 350.3h3.2v1.6h-3.2zM299.8 351.8h1.6v1.6h-1.6zM310.9 351.8h3.2v1.6h-3.2zM364.7 351.8h1.6v1.6h-1.6zM296.7 353.3h1.6v1.6h-1.6zM299.8 353.3h1.6v1.6h-1.6zM307.7 353.3h1.6v1.6h-1.6zM310.9 353.3h3.2v1.6h-3.2zM339.4 353.3h1.6v1.6h-1.6zM344.1 353.3h1.6v1.6h-1.6zM347.3 353.3h1.6v1.6h-1.6zM364.7 353.3h1.6v1.6h-1.6zM415.3 353.3h1.6v1.6h-1.6zM280.9 354.8h1.6v1.6h-1.6zM296.7 354.8h1.6v1.6h-1.6zM310.9 354.8h3.2v1.6h-3.2zM344.1 354.8h4.8v1.6h-4.8zM377.3 354.8h1.6v1.6h-1.6zM415.3 354.8h1.6v1.6h-1.6zM291.9 356.3h1.6v1.6h-1.6zM309.3 356.3h1.6v1.6h-1.6zM317.2 356.3h3.2v1.6h-3.2zM322.0 356.3h1.6v1.6h-1.6zM345.7 356.3h1.6v1.6h-1.6zM364.7 356.3h1.6v1.6h-1.6zM371.0 356.3h1.6v1.6h-1.6zM377.3 356.3h1.6v1.6h-1.6zM386.8 356.3h1.6v1.6h-1.6zM397.9 356.3h1.6v1.6h-1.6zM298.3 357.9h1.6v1.6h-1.6zM309.3 357.9h3.2v1.6h-3.2zM317.2 357.9h3.2v1.6h-3.2zM322.0 357.9h1.6v1.6h-1.6zM342.5 357.9h1.6v1.6h-1.6zM377.3 357.9h1.6v1.6h-1.6zM386.8 357.9h1.6v1.6h-1.6zM397.9 357.9h1.6v1.6h-1.6zM401.0 357.9h1.6v1.6h-1.6zM282.5 359.4h1.6v1.6h-1.6zM298.3 359.4h1.6v1.6h-1.6zM309.3 359.4h1.6v1.6h-1.6zM323.6 359.4h1.6v1.6h-1.6zM340.9 359.4h1.6v1.6h-1.6zM364.7 359.4h1.6v1.6h-1.6zM386.8 359.4h1.6v1.6h-1.6zM397.9 359.4h1.6v1.6h-1.6zM401.0 359.4h1.6v1.6h-1.6zM310.9 360.9h1.6v1.6h-1.6zM314.1 360.9h1.6v1.6h-1.6zM364.7 360.9h1.6v1.6h-1.6zM386.8 360.9h1.6v1.6h-1.6zM276.1 362.4h1.6v1.6h-1.6zM310.9 362.4h1.6v1.6h-1.6zM314.1 362.4h3.2v1.6h-3.2zM358.3 362.4h1.6v1.6h-1.6zM386.8 362.4h1.6v1.6h-1.6zM391.5 362.4h1.6v1.6h-1.6zM285.6 363.9h1.6v1.6h-1.6zM296.7 363.9h3.2v1.6h-3.2zM358.3 363.9h3.2v1.6h-3.2zM391.5 363.9h1.6v1.6h-1.6zM413.7 363.9h1.6v1.6h-1.6zM265.1 365.4h1.6v1.6h-1.6zM285.6 365.4h1.6v1.6h-1.6zM310.9 365.4h3.2v1.6h-3.2zM323.6 365.4h1.6v1.6h-1.6zM344.1 365.4h1.6v1.6h-1.6zM358.3 365.4h3.2v1.6h-3.2zM364.7 365.4h1.6v1.6h-1.6zM377.3 365.4h1.6v1.6h-1.6zM401.0 365.4h1.6v1.6h-1.6zM415.3 365.4h1.6v1.6h-1.6zM285.6 366.9h1.6v1.6h-1.6zM296.7 366.9h1.6v1.6h-1.6zM312.5 366.9h1.6v1.6h-1.6zM320.4 366.9h1.6v1.6h-1.6zM344.1 366.9h3.2v1.6h-3.2zM358.3 366.9h3.2v1.6h-3.2zM364.7 366.9h1.6v1.6h-1.6zM377.3 366.9h1.6v1.6h-1.6zM383.6 366.9h1.6v1.6h-1.6zM415.3 366.9h1.6v1.6h-1.6zM277.7 368.4h1.6v1.6h-1.6zM287.2 368.4h1.6v1.6h-1.6zM296.7 368.4h1.6v1.6h-1.6zM320.4 368.4h1.6v1.6h-1.6zM342.5 368.4h1.6v1.6h-1.6zM359.9 368.4h1.6v1.6h-1.6zM364.7 368.4h1.6v1.6h-1.6zM377.3 368.4h1.6v1.6h-1.6zM391.5 368.4h1.6v1.6h-1.6zM310.9 370.0h1.6v1.6h-1.6zM320.4 370.0h1.6v1.6h-1.6zM323.6 370.0h1.6v1.6h-1.6zM342.5 370.0h1.6v1.6h-1.6zM345.7 370.0h1.6v1.6h-1.6zM355.2 370.0h1.6v1.6h-1.6zM358.3 370.0h1.6v1.6h-1.6zM361.5 370.0h1.6v1.6h-1.6zM371.0 370.0h1.6v1.6h-1.6zM377.3 370.0h1.6v1.6h-1.6zM394.7 370.0h1.6v1.6h-1.6zM401.0 370.0h1.6v1.6h-1.6zM413.7 370.0h3.2v1.6h-3.2zM296.7 371.5h1.6v1.6h-1.6zM315.7 371.5h1.6v1.6h-1.6zM320.4 371.5h1.6v1.6h-1.6zM340.9 371.5h3.2v1.6h-3.2zM345.7 371.5h1.6v1.6h-1.6zM355.2 371.5h1.6v1.6h-1.6zM358.3 371.5h1.6v1.6h-1.6zM295.1 373.0h3.2v1.6h-3.2zM309.3 373.0h1.6v1.6h-1.6zM317.2 373.0h1.6v1.6h-1.6zM345.7 373.0h1.6v1.6h-1.6zM361.5 373.0h1.6v1.6h-1.6zM371.0 373.0h1.6v1.6h-1.6zM377.3 373.0h1.6v1.6h-1.6zM296.7 374.5h3.2v1.6h-3.2zM317.2 374.5h1.6v1.6h-1.6zM391.5 374.5h1.6v1.6h-1.6zM394.7 374.5h1.6v1.6h-1.6zM276.1 376.0h1.6v1.6h-1.6zM280.9 376.0h1.6v1.6h-1.6zM285.6 376.0h1.6v1.6h-1.6zM290.4 376.0h1.6v1.6h-1.6zM293.5 376.0h1.6v1.6h-1.6zM296.7 376.0h1.6v1.6h-1.6zM309.3 376.0h1.6v1.6h-1.6zM317.2 376.0h1.6v1.6h-1.6zM320.4 376.0h1.6v1.6h-1.6zM366.2 376.0h1.6v1.6h-1.6zM383.6 376.0h1.6v1.6h-1.6zM386.8 376.0h1.6v1.6h-1.6zM391.5 376.0h1.6v1.6h-1.6zM276.1 377.5h1.6v1.6h-1.6zM284.0 377.5h1.6v1.6h-1.6zM291.9 377.5h3.2v1.6h-3.2zM312.5 377.5h1.6v1.6h-1.6zM320.4 377.5h1.6v1.6h-1.6zM391.5 377.5h1.6v1.6h-1.6zM276.1 379.0h1.6v1.6h-1.6zM284.0 379.0h4.8v1.6h-4.8zM291.9 379.0h1.6v1.6h-1.6zM307.7 379.0h3.2v1.6h-3.2zM312.5 379.0h1.6v1.6h-1.6zM320.4 379.0h1.6v1.6h-1.6zM323.6 379.0h1.6v1.6h-1.6zM345.7 379.0h1.6v1.6h-1.6zM358.3 379.0h1.6v1.6h-1.6zM364.7 379.0h1.6v1.6h-1.6zM386.8 379.0h1.6v1.6h-1.6zM391.5 379.0h1.6v1.6h-1.6zM401.0 379.0h1.6v1.6h-1.6zM276.1 380.5h1.6v1.6h-1.6zM291.9 380.5h1.6v1.6h-1.6zM295.1 380.5h1.6v1.6h-1.6zM307.7 380.5h1.6v1.6h-1.6zM312.5 380.5h1.6v1.6h-1.6zM315.7 380.5h1.6v1.6h-1.6zM318.8 380.5h1.6v1.6h-1.6zM322.0 380.5h1.6v1.6h-1.6zM355.2 380.5h1.6v1.6h-1.6zM364.7 380.5h3.2v1.6h-3.2zM377.3 380.5h1.6v1.6h-1.6zM383.6 380.5h1.6v1.6h-1.6zM401.0 380.5h1.6v1.6h-1.6zM415.3 380.5h1.6v1.6h-1.6zM282.5 382.1h1.6v1.6h-1.6zM291.9 382.1h1.6v1.6h-1.6zM295.1 382.1h3.2v1.6h-3.2zM307.7 382.1h4.8v1.6h-4.8zM317.2 382.1h1.6v1.6h-1.6zM322.0 382.1h1.6v1.6h-1.6zM339.4 382.1h1.6v1.6h-1.6zM344.1 382.1h1.6v1.6h-1.6zM355.2 382.1h1.6v1.6h-1.6zM361.5 382.1h1.6v1.6h-1.6zM366.2 382.1h1.6v1.6h-1.6zM377.3 382.1h1.6v1.6h-1.6zM383.6 382.1h1.6v1.6h-1.6zM282.5 383.6h1.6v1.6h-1.6zM285.6 383.6h1.6v1.6h-1.6zM296.7 383.6h1.6v1.6h-1.6zM309.3 383.6h1.6v1.6h-1.6zM312.5 383.6h3.2v1.6h-3.2zM317.2 383.6h1.6v1.6h-1.6zM322.0 383.6h1.6v1.6h-1.6zM345.7 383.6h1.6v1.6h-1.6zM364.7 383.6h1.6v1.6h-1.6zM295.1 385.1h1.6v1.6h-1.6zM314.1 385.1h1.6v1.6h-1.6zM320.4 385.1h3.2v1.6h-3.2zM347.3 385.1h1.6v1.6h-1.6z"/>
<path fill="#ccffff" d="M310.9 236.8h1.6v1.6h-1.6zM310.9 238.3h1.6v1.6h-1.6zM310.9 239.8h3.2v1.6h-3.2zM366.2 239.8h1.6v1.6h-1.6zM323.6 241.4h1.6v1.6h-1.6zM310.9 245.9h3.2v1.6h-3.2zM310.9 247.4h1.6v1.6h-1.6zM309.3 248.9h1.6v1.6h-1.6zM312.5 248.9h1.6v1.6h-1.6zM356.8 248.9h3.2v1.6h-3.2zM312.5 250.4h1.6v1.6h-1.6zM356.8 250.4h3.2v1.6h-3.2zM366.2 251.9h1.6v1.6h-1.6zM310.9 253.5h1.6v1.6h-1.6zM356.8 253.5h1.6v1.6h-1.6zM416.8 253.5h1.6v1.6h-1.6zM356.8 255.0h1.6v1.6h-1.6zM356.8 256.5h1.6v1.6h-1.6zM401.0 258.0h1.6v1.6h-1.6zM366.2 259.5h1.6v1.6h-1.6zM309.3 261.0h3.2v1.6h-3.2zM358.3 261.0h1.6v1.6h-1.6zM371.0 262.5h1.6v1.6h-1.6zM413.7 262.5h1.6v1.6h-1.6zM356.8 264.0h3.2v1.6h-3.2zM312.5 265.6h1.6v1.6h-1.6zM356.8 267.1h1.6v1.6h-1.6zM358.3 268.6h1.6v1.6h-1.6zM345.7 274.6h1.6v1.6h-1.6zM364.7 276.2h1.6v1.6h-1.6zM366.2 277.7h1.6v1.6h-1.6zM391.5 279.2h1.6v1.6h-1.6zM293.5 285.2h1.6v1.6h-1.6zM298.3 285.2h1.6v1.6h-1.6zM415.3 288.3h1.6v1.6h-1.6zM415.3 294.3h1.6v1.6h-1.6zM277.7 297.3h1.6v1.6h-1.6zM307.7 301.9h1.6v1.6h-1.6zM322.0 301.9h3.2v1.6h-3.2zM356.8 303.4h1.6v1.6h-1.6zM307.7 304.9h1.6v1.6h-1.6zM356.8 304.9h1.6v1.6h-1.6zM391.5 306.4h1.6v1.6h-1.6zM394.7 306.4h1.6v1.6h-1.6zM284.0 309.4h1.6v1.6h-1.6zM310.9 312.5h1.6v1.6h-1.6zM310.9 314.0h1.6v1.6h-1.6zM408.9 320.0h1.6v1.6h-1.6zM366.2 321.5h1.6v1.6h-1.6zM309.3 323.1h1.6v1.6h-1.6zM320.4 323.1h1.6v1.6h-1.6zM361.5 323.1h1.6v1.6h-1.6zM309.3 330.6h1.6v1.6h-1.6zM377.3 338.2h1.6v1.6h-1.6zM310.9 339.7h1.6v1.6h-1.6zM310.9 341.2h1.6v1.6h-1.6zM312.5 342.7h1.6v1.6h-1.6zM314.1 344.2h1.6v1.6h-1.6zM310.9 347.3h1.6v1.6h-1.6zM397.9 347.3h1.6v1.6h-1.6zM310.9 348.8h1.6v1.6h-1.6zM347.3 348.8h1.6v1.6h-1.6zM309.3 350.3h1.6v1.6h-1.6zM309.3 351.8h1.6v1.6h-1.6zM315.7 351.8h1.6v1.6h-1.6zM309.3 353.3h1.6v1.6h-1.6zM315.7 353.3h1.6v1.6h-1.6zM364.7 354.8h1.6v1.6h-1.6zM413.7 360.9h1.6v1.6h-1.6zM413.7 362.4h1.6v1.6h-1.6zM323.6 363.9h1.6v1.6h-1.6zM342.5 366.9h1.6v1.6h-1.6zM310.9 368.4h1.6v1.6h-1.6zM358.3 368.4h1.6v1.6h-1.6zM366.2 368.4h1.6v1.6h-1.6zM415.3 368.4h1.6v1.6h-1.6zM361.5 371.5h1.6v1.6h-1.6zM371.0 371.5h1.6v1.6h-1.6zM371.0 374.5h1.6v1.6h-1.6zM309.3 377.5h1.6v1.6h-1.6zM413.7 377.5h1.6v1.6h-1.6zM310.9 379.0h1.6v1.6h-1.6zM413.7 379.0h1.6v1.6h-1.6zM309.3 380.5h3.2v1.6h-3.2zM323.6 380.5h1.6v1.6h-1.6zM312.5 382.1h1.6v1.6h-1.6zM323.6 382.1h1.6v1.6h-1.6zM269.8 383.6h1.6v1.6h-1.6z"/>
<path fill="#bfffff" d="M310.9 241.4h1.6v1.6h-1.6zM328.3 242.9h1.6v1.6h-1.6zM356.8 251.9h1.6v1.6h-1.6zM366.2 258.0h1.6v1.6h-1.6zM329.9 261.0h1.6v1.6h-1.6zM356.8 261.0h1.6v1.6h-1.6zM309.3 262.5h1.6v1.6h-1.6zM356.8 262.5h3.2v1.6h-3.2zM348.9 270.1h1.6v1.6h-1.6zM312.5 274.6h1.6v1.6h-1.6zM399.4 277.7h1.6v1.6h-1.6zM352.0 283.7h1.6v1.6h-1.6zM378.9 291.3h1.6v1.6h-1.6zM404.2 341.2h1.6v1.6h-1.6zM288.8 342.7h1.6v1.6h-1.6zM336.2 345.7h1.6v1.6h-1.6zM309.3 354.8h1.6v1.6h-1.6zM280.9 373.0h1.6v1.6h-1.6z"/>
<path fill="#b2ffff" d="M377.3 244.4h1.6v1.6h-1.6zM405.8 247.4h1.6v1.6h-1.6zM347.3 256.5h1.6v1.6h-1.6zM418.4 279.2h1.6v1.6h-1.6zM269.8 283.7h1.6v1.6h-1.6zM352.0 298.8h1.6v1.6h-1.6zM388.4 303.4h1.6v1.6h-1.6zM401.0 303.4h1.6v1.6h-1.6zM393.1 312.5h1.6v1.6h-1.6zM388.4 345.7h1.6v1.6h-1.6zM336.2 347.3h1.6v1.6h-1.6zM326.7 368.4h1.6v1.6h-1.6zM386.8 377.5h1.6v1.6h-1.6zM396.3 383.6h1.6v1.6h-1.6z"/>
<path fill="#a5ffff" d="M347.3 235.3h1.6v1.6h-1.6zM331.5 245.9h1.6v1.6h-1.6zM367.8 245.9h1.6v1.6h-1.6zM416.8 270.1h1.6v1.6h-1.6zM284.0 276.2h1.6v1.6h-1.6zM359.9 277.7h1.6v1.6h-1.6zM385.2 277.7h1.6v1.6h-1.6zM418.4 291.3h1.6v1.6h-1.6zM326.7 301.9h1.6v1.6h-1.6zM290.4 315.5h1.6v1.6h-1.6zM336.2 320.0h1.6v1.6h-1.6zM310.9 321.5h1.6v1.6h-1.6zM329.9 321.5h1.6v1.6h-1.6zM396.3 335.2h1.6v1.6h-1.6zM328.3 351.8h1.6v1.6h-1.6zM337.8 363.9h1.6v1.6h-1.6zM412.1 371.5h1.6v1.6h-1.6zM383.6 377.5h1.6v1.6h-1.6zM328.3 379.0h1.6v1.6h-1.6zM390.0 380.5h1.6v1.6h-1.6zM276.1 383.6h1.6v1.6h-1.6z"/>
<path fill="#98ffff" d="M288.8 282.2h1.6v1.6h-1.6zM282.5 283.7h1.6v1.6h-1.6zM309.3 297.3h1.6v1.6h-1.6zM328.3 310.9h1.6v1.6h-1.6zM367.8 339.7h1.6v1.6h-1.6zM261.9 357.9h1.6v1.6h-1.6zM310.9 363.9h1.6v1.6h-1.6zM288.8 365.4h1.6v1.6h-1.6zM382.1 380.5h1.6v1.6h-1.6z"/>
<path fill="#8bffff" d="M312.5 276.2h1.6v1.6h-1.6zM279.3 327.6h1.6v1.6h-1.6zM401.0 366.9h1.6v1.6h-1.6z"/>
<path fill="#31ffff" d="M296.7 248.9h1.6v1.6h-1.6z"/>
<path fill="#24ffff" d="M277.7 248.9h1.6v1.6h-1.6zM285.6 248.9h1.6v1.6h-1.6zM322.0 279.2h1.6v1.6h-1.6zM372.6 341.2h1.6v1.6h-1.6z"/>
<path fill="#17ffff" d="M277.7 267.1h1.6v1.6h-1.6zM285.6 270.1h1.6v1.6h-1.6zM322.0 294.3h1.6v1.6h-1.6z"/>
<path fill="#0affff" d="M274.5 247.4h1.6v1.6h-1.6zM290.4 248.9h1.6v1.6h-1.6zM296.7 250.4h1.6v1.6h-1.6zM277.7 251.9h1.6v1.6h-1.6zM296.7 251.9h1.6v1.6h-1.6zM285.6 253.5h1.6v1.6h-1.6zM277.7 255.0h1.6v1.6h-1.6zM285.6 255.0h1.6v1.6h-1.6zM285.6 256.5h1.6v1.6h-1.6zM277.7 258.0h1.6v1.6h-1.6zM296.7 259.5h1.6v1.6h-1.6zM277.7 261.0h1.6v1.6h-1.6zM285.6 261.0h1.6v1.6h-1.6zM296.7 261.0h1.6v1.6h-1.6zM285.6 262.5h1.6v1.6h-1.6zM285.6 264.0h1.6v1.6h-1.6zM277.7 265.6h1.6v1.6h-1.6zM285.6 265.6h1.6v1.6h-1.6zM285.6 267.1h1.6v1.6h-1.6zM277.7 268.6h1.6v1.6h-1.6zM285.6 268.6h1.6v1.6h-1.6zM296.7 270.1h1.6v1.6h-1.6zM285.6 271.6h1.6v1.6h-1.6zM296.7 271.6h1.6v1.6h-1.6zM322.0 280.7h1.6v1.6h-1.6zM352.0 321.5h1.6v1.6h-1.6zM355.2 326.1h1.6v1.6h-1.6zM355.2 327.6h1.6v1.6h-1.6zM355.2 332.1h1.6v1.6h-1.6zM355.2 333.6h1.6v1.6h-1.6zM355.2 347.3h1.6v1.6h-1.6zM355.2 350.3h1.6v1.6h-1.6zM355.2 351.8h1.6v1.6h-1.6z"/>
<path fill="#00fcff" d="M265.1 238.3h1.6v1.6h-1.6zM299.8 248.9h1.6v1.6h-1.6zM285.6 250.4h1.6v1.6h-1.6zM290.4 250.4h1.6v1.6h-1.6zM285.6 251.9h1.6v1.6h-1.6zM277.7 253.5h1.6v1.6h-1.6zM296.7 253.5h1.6v1.6h-1.6zM296.7 255.0h1.6v1.6h-1.6zM277.7 256.5h1.6v1.6h-1.6zM296.7 258.0h1.6v1.6h-1.6zM277.7 259.5h1.6v1.6h-1.6zM285.6 259.5h1.6v1.6h-1.6zM277.7 262.5h1.6v1.6h-1.6zM296.7 262.5h1.6v1.6h-1.6zM277.7 264.0h1.6v1.6h-1.6zM296.7 265.6h1.6v1.6h-1.6zM290.4 267.1h1.6v1.6h-1.6zM296.7 268.6h1.6v1.6h-1.6zM277.7 270.1h1.6v1.6h-1.6zM277.7 271.6h1.6v1.6h-1.6zM322.0 282.2h1.6v1.6h-1.6zM322.0 285.2h1.6v1.6h-1.6zM307.7 288.3h1.6v1.6h-1.6zM322.0 288.3h1.6v1.6h-1.6zM307.7 294.3h1.6v1.6h-1.6zM312.5 294.3h1.6v1.6h-1.6zM329.9 300.4h1.6v1.6h-1.6zM355.2 329.1h1.6v1.6h-1.6zM355.2 330.6h1.6v1.6h-1.6zM363.1 332.1h1.6v1.6h-1.6zM364.7 333.6h1.6v1.6h-1.6zM355.2 336.7h1.6v1.6h-1.6zM355.2 338.2h1.6v1.6h-1.6zM355.2 339.7h1.6v1.6h-1.6zM355.2 341.2h1.6v1.6h-1.6zM355.2 342.7h1.6v1.6h-1.6zM374.2 342.7h1.6v1.6h-1.6zM355.2 344.2h1.6v1.6h-1.6zM355.2 348.8h1.6v1.6h-1.6zM355.2 353.3h1.6v1.6h-1.6zM385.2 353.3h1.6v1.6h-1.6zM355.2 354.8h1.6v1.6h-1.6z"/>
<path fill="#00eeff" d="M266.6 239.8h1.6v1.6h-1.6zM269.8 242.9h1.6v1.6h-1.6zM290.4 251.9h1.6v1.6h-1.6zM290.4 255.0h1.6v1.6h-1.6zM296.7 256.5h1.6v1.6h-1.6zM290.4 259.5h1.6v1.6h-1.6zM290.4 261.0h1.6v1.6h-1.6zM290.4 264.0h1.6v1.6h-1.6zM296.7 264.0h1.6v1.6h-1.6zM296.7 267.1h1.6v1.6h-1.6zM299.8 268.6h1.6v1.6h-1.6zM303.0 274.6h1.6v1.6h-1.6zM304.6 276.2h1.6v1.6h-1.6zM306.2 277.7h1.6v1.6h-1.6zM323.6 279.2h1.6v1.6h-1.6zM307.7 282.2h1.6v1.6h-1.6zM322.0 283.7h1.6v1.6h-1.6zM307.7 285.2h1.6v1.6h-1.6zM322.0 289.8h1.6v1.6h-1.6zM322.0 291.3h1.6v1.6h-1.6zM322.0 292.8h1.6v1.6h-1.6zM325.1 295.8h1.6v1.6h-1.6zM339.4 314.0h1.6v1.6h-1.6zM339.4 315.5h1.6v1.6h-1.6zM339.4 317.0h1.6v1.6h-1.6zM361.5 327.6h1.6v1.6h-1.6zM361.5 330.6h1.6v1.6h-1.6zM361.5 332.1h1.6v1.6h-1.6zM355.2 335.2h1.6v1.6h-1.6zM361.5 336.7h1.6v1.6h-1.6zM361.5 339.7h1.6v1.6h-1.6zM361.5 341.2h1.6v1.6h-1.6zM361.5 344.2h1.6v1.6h-1.6zM355.2 345.7h1.6v1.6h-1.6zM361.5 347.3h1.6v1.6h-1.6zM378.9 347.3h1.6v1.6h-1.6zM394.7 362.4h1.6v1.6h-1.6zM396.3 363.9h1.6v1.6h-1.6z"/>
<path fill="#00e0ff" d="M299.8 250.4h1.6v1.6h-1.6zM290.4 253.5h1.6v1.6h-1.6zM299.8 253.5h1.6v1.6h-1.6zM290.4 256.5h1.6v1.6h-1.6zM285.6 258.0h1.6v1.6h-1.6zM290.4 258.0h1.6v1.6h-1.6zM299.8 258.0h1.6v1.6h-1.6zM290.4 262.5h1.6v1.6h-1.6zM299.8 262.5h1.6v1.6h-1.6zM299.8 264.0h1.6v1.6h-1.6zM290.4 265.6h1.6v1.6h-1.6zM299.8 265.6h1.6v1.6h-1.6zM290.4 268.6h1.6v1.6h-1.6zM290.4 270.1h1.6v1.6h-1.6zM290.4 271.6h1.6v1.6h-1.6zM312.5 279.2h1.6v1.6h-1.6zM307.7 280.7h1.6v1.6h-1.6zM307.7 283.7h1.6v1.6h-1.6zM312.5 283.7h1.6v1.6h-1.6zM323.6 283.7h1.6v1.6h-1.6zM312.5 285.2h1.6v1.6h-1.6zM322.0 286.7h1.6v1.6h-1.6zM323.6 288.3h1.6v1.6h-1.6zM307.7 291.3h1.6v1.6h-1.6zM307.7 292.8h1.6v1.6h-1.6zM314.1 294.3h1.6v1.6h-1.6zM320.4 294.3h1.6v1.6h-1.6zM334.6 304.9h1.6v1.6h-1.6zM339.4 310.9h1.6v1.6h-1.6zM350.4 320.0h1.6v1.6h-1.6zM361.5 324.6h1.6v1.6h-1.6zM356.8 326.1h1.6v1.6h-1.6zM361.5 326.1h1.6v1.6h-1.6zM361.5 329.1h1.6v1.6h-1.6zM361.5 335.2h1.6v1.6h-1.6zM366.2 335.2h1.6v1.6h-1.6zM361.5 338.2h1.6v1.6h-1.6zM371.0 339.7h1.6v1.6h-1.6zM361.5 342.7h1.6v1.6h-1.6zM377.3 345.7h1.6v1.6h-1.6zM361.5 348.8h1.6v1.6h-1.6zM361.5 350.3h1.6v1.6h-1.6zM382.1 350.3h1.6v1.6h-1.6zM361.5 351.8h1.6v1.6h-1.6zM361.5 353.3h1.6v1.6h-1.6zM361.5 354.8h1.6v1.6h-1.6zM393.1 360.9h1.6v1.6h-1.6z"/>
<path fill="#00d3ff" d="M280.9 248.9h3.2v1.6h-3.2zM287.2 248.9h1.6v1.6h-1.6zM299.8 255.0h1.6v1.6h-1.6zM299.8 256.5h1.6v1.6h-1.6zM299.8 261.0h1.6v1.6h-1.6zM299.8 267.1h1.6v1.6h-1.6zM307.7 279.2h3.2v1.6h-3.2zM320.4 279.2h1.6v1.6h-1.6zM312.5 282.2h1.6v1.6h-1.6zM323.6 282.2h1.6v1.6h-1.6zM307.7 286.7h1.6v1.6h-1.6zM312.5 286.7h1.6v1.6h-1.6zM320.4 286.7h1.6v1.6h-1.6zM320.4 288.3h1.6v1.6h-1.6zM307.7 289.8h1.6v1.6h-1.6zM312.5 289.8h1.6v1.6h-1.6zM323.6 289.8h1.6v1.6h-1.6zM312.5 291.3h1.6v1.6h-1.6zM309.3 294.3h1.6v1.6h-1.6zM323.6 294.3h1.6v1.6h-1.6zM336.2 306.4h1.6v1.6h-1.6zM339.4 309.4h1.6v1.6h-1.6zM342.5 309.4h1.6v1.6h-1.6zM339.4 312.5h1.6v1.6h-1.6zM342.5 312.5h1.6v1.6h-1.6zM345.7 312.5h1.6v1.6h-1.6zM355.2 324.6h3.2v1.6h-3.2zM356.8 327.6h1.6v1.6h-1.6zM356.8 332.1h1.6v1.6h-1.6zM361.5 333.6h1.6v1.6h-1.6zM356.8 335.2h1.6v1.6h-1.6zM356.8 338.2h1.6v1.6h-1.6zM356.8 339.7h1.6v1.6h-1.6zM356.8 341.2h1.6v1.6h-1.6zM361.5 345.7h1.6v1.6h-1.6zM380.5 348.8h1.6v1.6h-1.6zM356.8 350.3h1.6v1.6h-1.6zM386.8 354.8h1.6v1.6h-1.6zM391.5 359.4h1.6v1.6h-1.6zM397.9 365.4h1.6v1.6h-1.6z"/>
<path fill="#00c5ff" d="M271.4 244.4h1.6v1.6h-1.6zM293.5 248.9h1.6v1.6h-1.6zM277.7 250.4h1.6v1.6h-1.6zM282.5 250.4h1.6v1.6h-1.6zM282.5 251.9h1.6v1.6h-1.6zM299.8 251.9h1.6v1.6h-1.6zM293.5 256.5h1.6v1.6h-1.6zM299.8 259.5h1.6v1.6h-1.6zM282.5 264.0h1.6v1.6h-1.6zM282.5 265.6h1.6v1.6h-1.6zM287.2 265.6h1.6v1.6h-1.6zM287.2 267.1h1.6v1.6h-1.6zM282.5 268.6h1.6v1.6h-1.6zM287.2 268.6h1.6v1.6h-1.6zM299.8 270.1h1.6v1.6h-1.6zM282.5 271.6h1.6v1.6h-1.6zM299.8 271.6h1.6v1.6h-1.6zM314.1 279.2h3.2v1.6h-3.2zM312.5 280.7h1.6v1.6h-1.6zM320.4 280.7h1.6v1.6h-1.6zM323.6 280.7h1.6v1.6h-1.6zM314.1 285.2h1.6v1.6h-1.6zM323.6 285.2h1.6v1.6h-1.6zM312.5 288.3h1.6v1.6h-1.6zM312.5 292.8h1.6v1.6h-1.6zM333.0 303.4h1.6v1.6h-1.6zM337.8 307.9h1.6v1.6h-1.6zM345.7 309.4h3.2v1.6h-3.2zM345.7 310.9h1.6v1.6h-1.6zM345.7 314.0h1.6v1.6h-1.6zM342.5 315.5h1.6v1.6h-1.6zM345.7 317.0h1.6v1.6h-1.6zM348.9 318.5h1.6v1.6h-1.6zM356.8 330.6h1.6v1.6h-1.6zM359.9 332.1h1.6v1.6h-1.6zM356.8 333.6h1.6v1.6h-1.6zM369.4 338.2h1.6v1.6h-1.6zM356.8 342.7h1.6v1.6h-1.6zM356.8 345.7h1.6v1.6h-1.6zM356.8 347.3h1.6v1.6h-1.6zM356.8 348.8h3.2v1.6h-3.2zM356.8 351.8h1.6v1.6h-1.6zM383.6 351.8h1.6v1.6h-1.6zM356.8 354.8h1.6v1.6h-1.6zM388.4 356.3h1.6v1.6h-1.6zM390.0 357.9h1.6v1.6h-1.6z"/>
<path fill="#00b8ff" d="M287.2 250.4h1.6v1.6h-1.6zM293.5 250.4h1.6v1.6h-1.6zM287.2 251.9h1.6v1.6h-1.6zM293.5 251.9h1.6v1.6h-1.6zM280.9 253.5h3.2v1.6h-3.2zM287.2 253.5h1.6v1.6h-1.6zM293.5 253.5h1.6v1.6h-1.6zM280.9 255.0h3.2v1.6h-3.2zM287.2 255.0h1.6v1.6h-1.6zM293.5 255.0h1.6v1.6h-1.6zM280.9 256.5h3.2v1.6h-3.2zM282.5 258.0h1.6v1.6h-1.6zM287.2 258.0h1.6v1.6h-1.6zM279.3 259.5h1.6v1.6h-1.6zM282.5 259.5h1.6v1.6h-1.6zM287.2 259.5h1.6v1.6h-1.6zM280.9 261.0h3.2v1.6h-3.2zM287.2 261.0h1.6v1.6h-1.6zM293.5 261.0h1.6v1.6h-1.6zM280.9 264.0h1.6v1.6h-1.6zM287.2 264.0h1.6v1.6h-1.6zM293.5 264.0h1.6v1.6h-1.6zM280.9 265.6h1.6v1.6h-1.6zM293.5 265.6h1.6v1.6h-1.6zM280.9 267.1h3.2v1.6h-3.2zM293.5 267.1h1.6v1.6h-1.6zM280.9 268.6h1.6v1.6h-1.6zM293.5 268.6h1.6v1.6h-1.6zM287.2 270.1h1.6v1.6h-1.6zM287.2 271.6h1.6v1.6h-1.6zM310.9 279.2h1.6v1.6h-1.6zM309.3 280.7h1.6v1.6h-1.6zM320.4 282.2h1.6v1.6h-1.6zM309.3 285.2h1.6v1.6h-1.6zM320.4 285.2h1.6v1.6h-1.6zM309.3 286.7h1.6v1.6h-1.6zM314.1 286.7h3.2v1.6h-3.2zM323.6 286.7h1.6v1.6h-1.6zM314.1 288.3h1.6v1.6h-1.6zM309.3 289.8h1.6v1.6h-1.6zM314.1 289.8h3.2v1.6h-3.2zM318.8 289.8h3.2v1.6h-3.2zM309.3 291.3h1.6v1.6h-1.6zM314.1 291.3h1.6v1.6h-1.6zM320.4 291.3h1.6v1.6h-1.6zM314.1 292.8h1.6v1.6h-1.6zM328.3 298.8h1.6v1.6h-1.6zM342.5 310.9h1.6v1.6h-1.6zM342.5 314.0h1.6v1.6h-1.6zM340.9 315.5h1.6v1.6h-1.6zM345.7 315.5h1.6v1.6h-1.6zM340.9 317.0h3.2v1.6h-3.2zM347.3 317.0h1.6v1.6h-1.6zM353.6 323.1h1.6v1.6h-1.6zM358.3 324.6h3.2v1.6h-3.2zM358.3 326.1h3.2v1.6h-3.2zM358.3 327.6h1.6v1.6h-1.6zM356.8 329.1h1.6v1.6h-1.6zM358.3 333.6h3.2v1.6h-3.2zM356.8 336.7h1.6v1.6h-1.6zM358.3 338.2h1.6v1.6h-1.6zM359.9 342.7h1.6v1.6h-1.6zM356.8 344.2h1.6v1.6h-1.6zM359.9 347.3h1.6v1.6h-1.6zM358.3 351.8h3.2v1.6h-3.2zM356.8 353.3h1.6v1.6h-1.6zM359.9 353.3h1.6v1.6h-1.6z"/>
<path fill="#00aaff" d="M263.5 236.8h1.6v1.6h-1.6zM268.2 241.4h1.6v1.6h-1.6zM273.0 245.9h1.6v1.6h-1.6zM276.1 248.9h1.6v1.6h-1.6zM279.3 248.9h1.6v1.6h-1.6zM298.3 248.9h1.6v1.6h-1.6zM279.3 250.4h3.2v1.6h-3.2zM280.9 251.9h1.6v1.6h-1.6zM287.2 256.5h1.6v1.6h-1.6zM293.5 258.0h1.6v1.6h-1.6zM280.9 259.5h1.6v1.6h-1.6zM293.5 259.5h1.6v1.6h-1.6zM279.3 261.0h1.6v1.6h-1.6zM280.9 262.5h3.2v1.6h-3.2zM293.5 262.5h1.6v1.6h-1.6zM282.5 270.1h1.6v1.6h-1.6zM280.9 271.6h1.6v1.6h-1.6zM293.5 271.6h1.6v1.6h-1.6zM314.1 280.7h3.2v1.6h-3.2zM318.8 280.7h1.6v1.6h-1.6zM314.1 283.7h1.6v1.6h-1.6zM320.4 283.7h1.6v1.6h-1.6zM318.8 285.2h1.6v1.6h-1.6zM318.8 286.7h1.6v1.6h-1.6zM309.3 288.3h1.6v1.6h-1.6zM315.7 291.3h1.6v1.6h-1.6zM309.3 292.8h1.6v1.6h-1.6zM320.4 292.8h1.6v1.6h-1.6zM315.7 294.3h1.6v1.6h-1.6zM326.7 297.3h1.6v1.6h-1.6zM331.5 301.9h1.6v1.6h-1.6zM340.9 310.9h1.6v1.6h-1.6zM344.1 310.9h1.6v1.6h-1.6zM340.9 312.5h1.6v1.6h-1.6zM347.3 312.5h1.6v1.6h-1.6zM340.9 314.0h1.6v1.6h-1.6zM347.3 315.5h1.6v1.6h-1.6zM344.1 317.0h1.6v1.6h-1.6zM359.9 327.6h1.6v1.6h-1.6zM358.3 330.6h3.2v1.6h-3.2zM358.3 332.1h1.6v1.6h-1.6zM358.3 335.2h3.2v1.6h-3.2zM359.9 338.2h1.6v1.6h-1.6zM359.9 339.7h1.6v1.6h-1.6zM358.3 342.7h1.6v1.6h-1.6zM359.9 344.2h1.6v1.6h-1.6zM375.7 344.2h1.6v1.6h-1.6zM358.3 347.3h1.6v1.6h-1.6zM359.9 348.8h1.6v1.6h-1.6zM358.3 350.3h3.2v1.6h-3.2zM358.3 353.3h1.6v1.6h-1.6zM399.4 366.9h1.6v1.6h-1.6zM401.0 368.4h1.6v1.6h-1.6zM402.6 370.0h1.6v1.6h-1.6zM404.2 371.5h1.6v1.6h-1.6zM405.8 373.0h1.6v1.6h-1.6zM407.4 374.5h1.6v1.6h-1.6zM408.9 376.0h1.6v1.6h-1.6zM410.5 377.5h1.6v1.6h-1.6zM412.1 379.0h1.6v1.6h-1.6zM413.7 380.5h1.6v1.6h-1.6zM415.3 382.1h1.6v1.6h-1.6zM416.8 383.6h1.6v1.6h-1.6zM418.4 385.1h1.6v1.6h-1.6z"/>
<path fill="#009cff" d="M288.8 248.9h1.6v1.6h-1.6zM279.3 253.5h1.6v1.6h-1.6zM279.3 255.0h1.6v1.6h-1.6zM287.2 262.5h1.6v1.6h-1.6zM279.3 264.0h1.6v1.6h-1.6zM279.3 265.6h1.6v1.6h-1.6zM279.3 268.6h1.6v1.6h-1.6zM280.9 270.1h1.6v1.6h-1.6zM293.5 270.1h1.6v1.6h-1.6zM301.4 273.1h1.6v1.6h-1.6zM318.8 279.2h1.6v1.6h-1.6zM309.3 282.2h1.6v1.6h-1.6zM314.1 282.2h1.6v1.6h-1.6zM309.3 283.7h1.6v1.6h-1.6zM310.9 285.2h1.6v1.6h-1.6zM315.7 285.2h1.6v1.6h-1.6zM317.2 286.7h1.6v1.6h-1.6zM317.2 289.8h1.6v1.6h-1.6zM318.8 291.3h1.6v1.6h-1.6zM323.6 291.3h1.6v1.6h-1.6zM310.9 294.3h1.6v1.6h-1.6zM318.8 294.3h1.6v1.6h-1.6zM340.9 309.4h1.6v1.6h-1.6zM344.1 309.4h1.6v1.6h-1.6zM347.3 310.9h1.6v1.6h-1.6zM344.1 312.5h1.6v1.6h-1.6zM347.3 314.0h1.6v1.6h-1.6zM344.1 315.5h1.6v1.6h-1.6zM358.3 336.7h3.2v1.6h-3.2zM367.8 336.7h1.6v1.6h-1.6zM358.3 339.7h1.6v1.6h-1.6zM358.3 341.2h3.2v1.6h-3.2zM358.3 344.2h1.6v1.6h-1.6zM358.3 345.7h3.2v1.6h-3.2z"/>
<path fill="#008fff" d="M291.9 248.9h1.6v1.6h-1.6zM295.1 248.9h1.6v1.6h-1.6zM276.1 250.4h1.6v1.6h-1.6zM276.1 251.9h1.6v1.6h-1.6zM279.3 251.9h1.6v1.6h-1.6zM298.3 251.9h1.6v1.6h-1.6zM276.1 253.5h1.6v1.6h-1.6zM276.1 255.0h1.6v1.6h-1.6zM276.1 256.5h1.6v1.6h-1.6zM279.3 256.5h1.6v1.6h-1.6zM280.9 258.0h1.6v1.6h-1.6zM276.1 259.5h1.6v1.6h-1.6zM276.1 261.0h1.6v1.6h-1.6zM298.3 261.0h1.6v1.6h-1.6zM276.1 264.0h1.6v1.6h-1.6zM279.3 267.1h1.6v1.6h-1.6zM276.1 268.6h1.6v1.6h-1.6zM279.3 271.6h1.6v1.6h-1.6zM315.7 282.2h1.6v1.6h-1.6zM318.8 282.2h1.6v1.6h-1.6zM318.8 283.7h1.6v1.6h-1.6zM315.7 288.3h1.6v1.6h-1.6zM318.8 288.3h1.6v1.6h-1.6zM323.6 292.8h1.6v1.6h-1.6zM358.3 329.1h3.2v1.6h-3.2zM359.9 354.8h1.6v1.6h-1.6z"/>
<path fill="#0081ff" d="M261.9 235.3h1.6v1.6h-1.6zM284.0 248.9h1.6v1.6h-1.6zM288.8 250.4h1.6v1.6h-1.6zM298.3 250.4h1.6v1.6h-1.6zM288.8 251.9h1.6v1.6h-1.6zM295.1 251.9h1.6v1.6h-1.6zM288.8 253.5h1.6v1.6h-1.6zM298.3 255.0h1.6v1.6h-1.6zM288.8 256.5h1.6v1.6h-1.6zM279.3 258.0h1.6v1.6h-1.6zM288.8 259.5h1.6v1.6h-1.6zM288.8 261.0h1.6v1.6h-1.6zM288.8 264.0h1.6v1.6h-1.6zM298.3 264.0h1.6v1.6h-1.6zM276.1 265.6h1.6v1.6h-1.6zM288.8 265.6h1.6v1.6h-1.6zM276.1 267.1h1.6v1.6h-1.6zM288.8 267.1h1.6v1.6h-1.6zM288.8 268.6h1.6v1.6h-1.6zM276.1 271.6h1.6v1.6h-1.6zM288.8 271.6h1.6v1.6h-1.6zM298.3 271.6h1.6v1.6h-1.6zM317.2 279.2h1.6v1.6h-1.6zM310.9 280.7h1.6v1.6h-1.6zM317.2 285.2h1.6v1.6h-1.6zM315.7 292.8h1.6v1.6h-1.6zM318.8 292.8h1.6v1.6h-1.6zM317.2 294.3h1.6v1.6h-1.6zM344.1 314.0h1.6v1.6h-1.6z"/>
<path fill="#0074ff" d="M295.1 250.4h1.6v1.6h-1.6zM291.9 251.9h1.6v1.6h-1.6zM284.0 253.5h1.6v1.6h-1.6zM291.9 253.5h1.6v1.6h-1.6zM295.1 253.5h1.6v1.6h-1.6zM298.3 253.5h1.6v1.6h-1.6zM288.8 255.0h1.6v1.6h-1.6zM295.1 255.0h1.6v1.6h-1.6zM284.0 256.5h1.6v1.6h-1.6zM298.3 256.5h1.6v1.6h-1.6zM284.0 259.5h1.6v1.6h-1.6zM295.1 259.5h1.6v1.6h-1.6zM298.3 259.5h1.6v1.6h-1.6zM295.1 261.0h1.6v1.6h-1.6zM279.3 262.5h1.6v1.6h-1.6zM284.0 264.0h1.6v1.6h-1.6zM295.1 264.0h1.6v1.6h-1.6zM284.0 265.6h1.6v1.6h-1.6zM295.1 265.6h1.6v1.6h-1.6zM298.3 265.6h1.6v1.6h-1.6zM291.9 267.1h1.6v1.6h-1.6zM295.1 267.1h1.6v1.6h-1.6zM298.3 267.1h1.6v1.6h-1.6zM284.0 268.6h1.6v1.6h-1.6zM295.1 268.6h1.6v1.6h-1.6zM298.3 268.6h1.6v1.6h-1.6zM279.3 270.1h1.6v1.6h-1.6zM295.1 271.6h1.6v1.6h-1.6zM317.2 280.7h1.6v1.6h-1.6zM310.9 286.7h1.6v1.6h-1.6zM317.2 288.3h1.6v1.6h-1.6zM310.9 289.8h1.6v1.6h-1.6zM310.9 291.3h1.6v1.6h-1.6zM317.2 291.3h1.6v1.6h-1.6z"/>
<path fill="#0066ff" d="M284.0 250.4h1.6v1.6h-1.6zM291.9 250.4h1.6v1.6h-1.6zM284.0 251.9h1.6v1.6h-1.6zM284.0 255.0h1.6v1.6h-1.6zM291.9 255.0h1.6v1.6h-1.6zM291.9 256.5h1.6v1.6h-1.6zM295.1 256.5h1.6v1.6h-1.6zM276.1 258.0h1.6v1.6h-1.6zM291.9 259.5h1.6v1.6h-1.6zM284.0 261.0h1.6v1.6h-1.6zM291.9 261.0h1.6v1.6h-1.6zM276.1 262.5h1.6v1.6h-1.6zM291.9 265.6h1.6v1.6h-1.6zM291.9 268.6h1.6v1.6h-1.6zM284.0 271.6h1.6v1.6h-1.6zM291.9 271.6h1.6v1.6h-1.6zM310.9 282.2h1.6v1.6h-1.6zM317.2 282.2h1.6v1.6h-1.6z"/>
<path fill="#0058ff" d="M298.3 258.0h1.6v1.6h-1.6zM291.9 264.0h1.6v1.6h-1.6zM284.0 267.1h1.6v1.6h-1.6zM276.1 270.1h1.6v1.6h-1.6zM288.8 270.1h1.6v1.6h-1.6zM298.3 270.1h1.6v1.6h-1.6zM310.9 283.7h1.6v1.6h-1.6zM315.7 283.7h1.6v1.6h-1.6zM310.9 288.3h1.6v1.6h-1.6z"/>
<path fill="#004bff" d="M284.0 258.0h1.6v1.6h-1.6zM288.8 258.0h1.6v1.6h-1.6zM288.8 262.5h1.6v1.6h-1.6zM298.3 262.5h1.6v1.6h-1.6zM310.9 292.8h1.6v1.6h-1.6z"/>
<path fill="#003dff" d="M295.1 258.0h1.6v1.6h-1.6zM284.0 262.5h1.6v1.6h-1.6zM291.9 262.5h1.6v1.6h-1.6zM291.9 270.1h1.6v1.6h-1.6zM295.1 270.1h1.6v1.6h-1.6zM317.2 292.8h1.6v1.6h-1.6z"/>
<path fill="#0030ff" d="M291.9 258.0h1.6v1.6h-1.6zM295.1 262.5h1.6v1.6h-1.6zM284.0 270.1h1.6v1.6h-1.6zM317.2 283.7h1.6v1.6h-1.6z"/>
<path fill="#0000e0" d="M358.3 354.8h1.6v1.6h-1.6z"/>
<path d="M261.30 235.20H420.60" stroke="#4a4a4a" stroke-width="1.20"/>
<path d="M420.00 234.60V387.10" stroke="#4a4a4a" stroke-width="1.20"/>
<path d="M261.90 234.60V387.10" stroke="#4a4a4a" stroke-width="1.20"/>
<path d="M261.30 386.50H420.60" stroke="#000" stroke-width="1.20"/>
<path d="M293.06 386.50v-1.5M293.06 235.20v1.5M261.90 264.80h1.5M420.00 264.80h-1.5M324.60 386.50v-1.5M324.60 235.20v1.5M261.90 294.80h1.5M420.00 294.80h-1.5M356.14 386.50v-1.5M356.14 235.20v1.5M261.90 324.80h1.5M420.00 324.80h-1.5M387.68 386.50v-1.5M387.68 235.20v1.5M261.90 354.80h1.5M420.00 354.80h-1.5" stroke="#000" stroke-width="0.9" fill="none"/>
<g font-family="'Liberation Serif',serif" font-size="12" fill="#000">
<text x="293.06" y="400.20" text-anchor="middle">20</text>
<text x="259.20" y="269.10" text-anchor="end">20</text>
<text x="324.60" y="400.20" text-anchor="middle">40</text>
<text x="259.20" y="299.10" text-anchor="end">40</text>
<text x="356.14" y="400.20" text-anchor="middle">60</text>
<text x="259.20" y="329.10" text-anchor="end">60</text>
<text x="387.68" y="400.20" text-anchor="middle">80</text>
<text x="259.20" y="359.10" text-anchor="end">80</text>
<text x="419.80" y="400.20" text-anchor="middle">100</text>
<text x="259.20" y="390.00" text-anchor="end">100</text>
</g>
<text x="340.95" y="223.50" text-anchor="middle" font-family="'Liberation Serif',serif" font-size="17" fill="#000">Model2 B<tspan font-size="20" dx="-0.8" dy="1.3">×</tspan><tspan dx="-0.8" dy="-1.3">A+C</tspan></text>
<rect x="434.00" y="235.20" width="18.30" height="151.30" fill="url(#cb)" stroke="#333" stroke-width="1.1"/>
<path d="M434.00 356.24h1.8M452.30 356.24h-1.8M434.00 325.98h1.8M452.30 325.98h-1.8M434.00 295.72h1.8M452.30 295.72h-1.8M434.00 265.46h1.8M452.30 265.46h-1.8" stroke="#000" stroke-width="0.9" fill="none"/>
<g font-family="'Liberation Serif',serif" font-size="12" fill="#000">
<text x="454.70" y="391.00">0</text>
<text x="454.70" y="360.74">0.2</text>
<text x="454.70" y="330.48">0.4</text>
<text x="454.70" y="300.22">0.6</text>
<text x="454.70" y="269.96">0.8</text>
<text x="454.70" y="239.70">1</text>
</g>
</g>
</svg>
</body></html>
